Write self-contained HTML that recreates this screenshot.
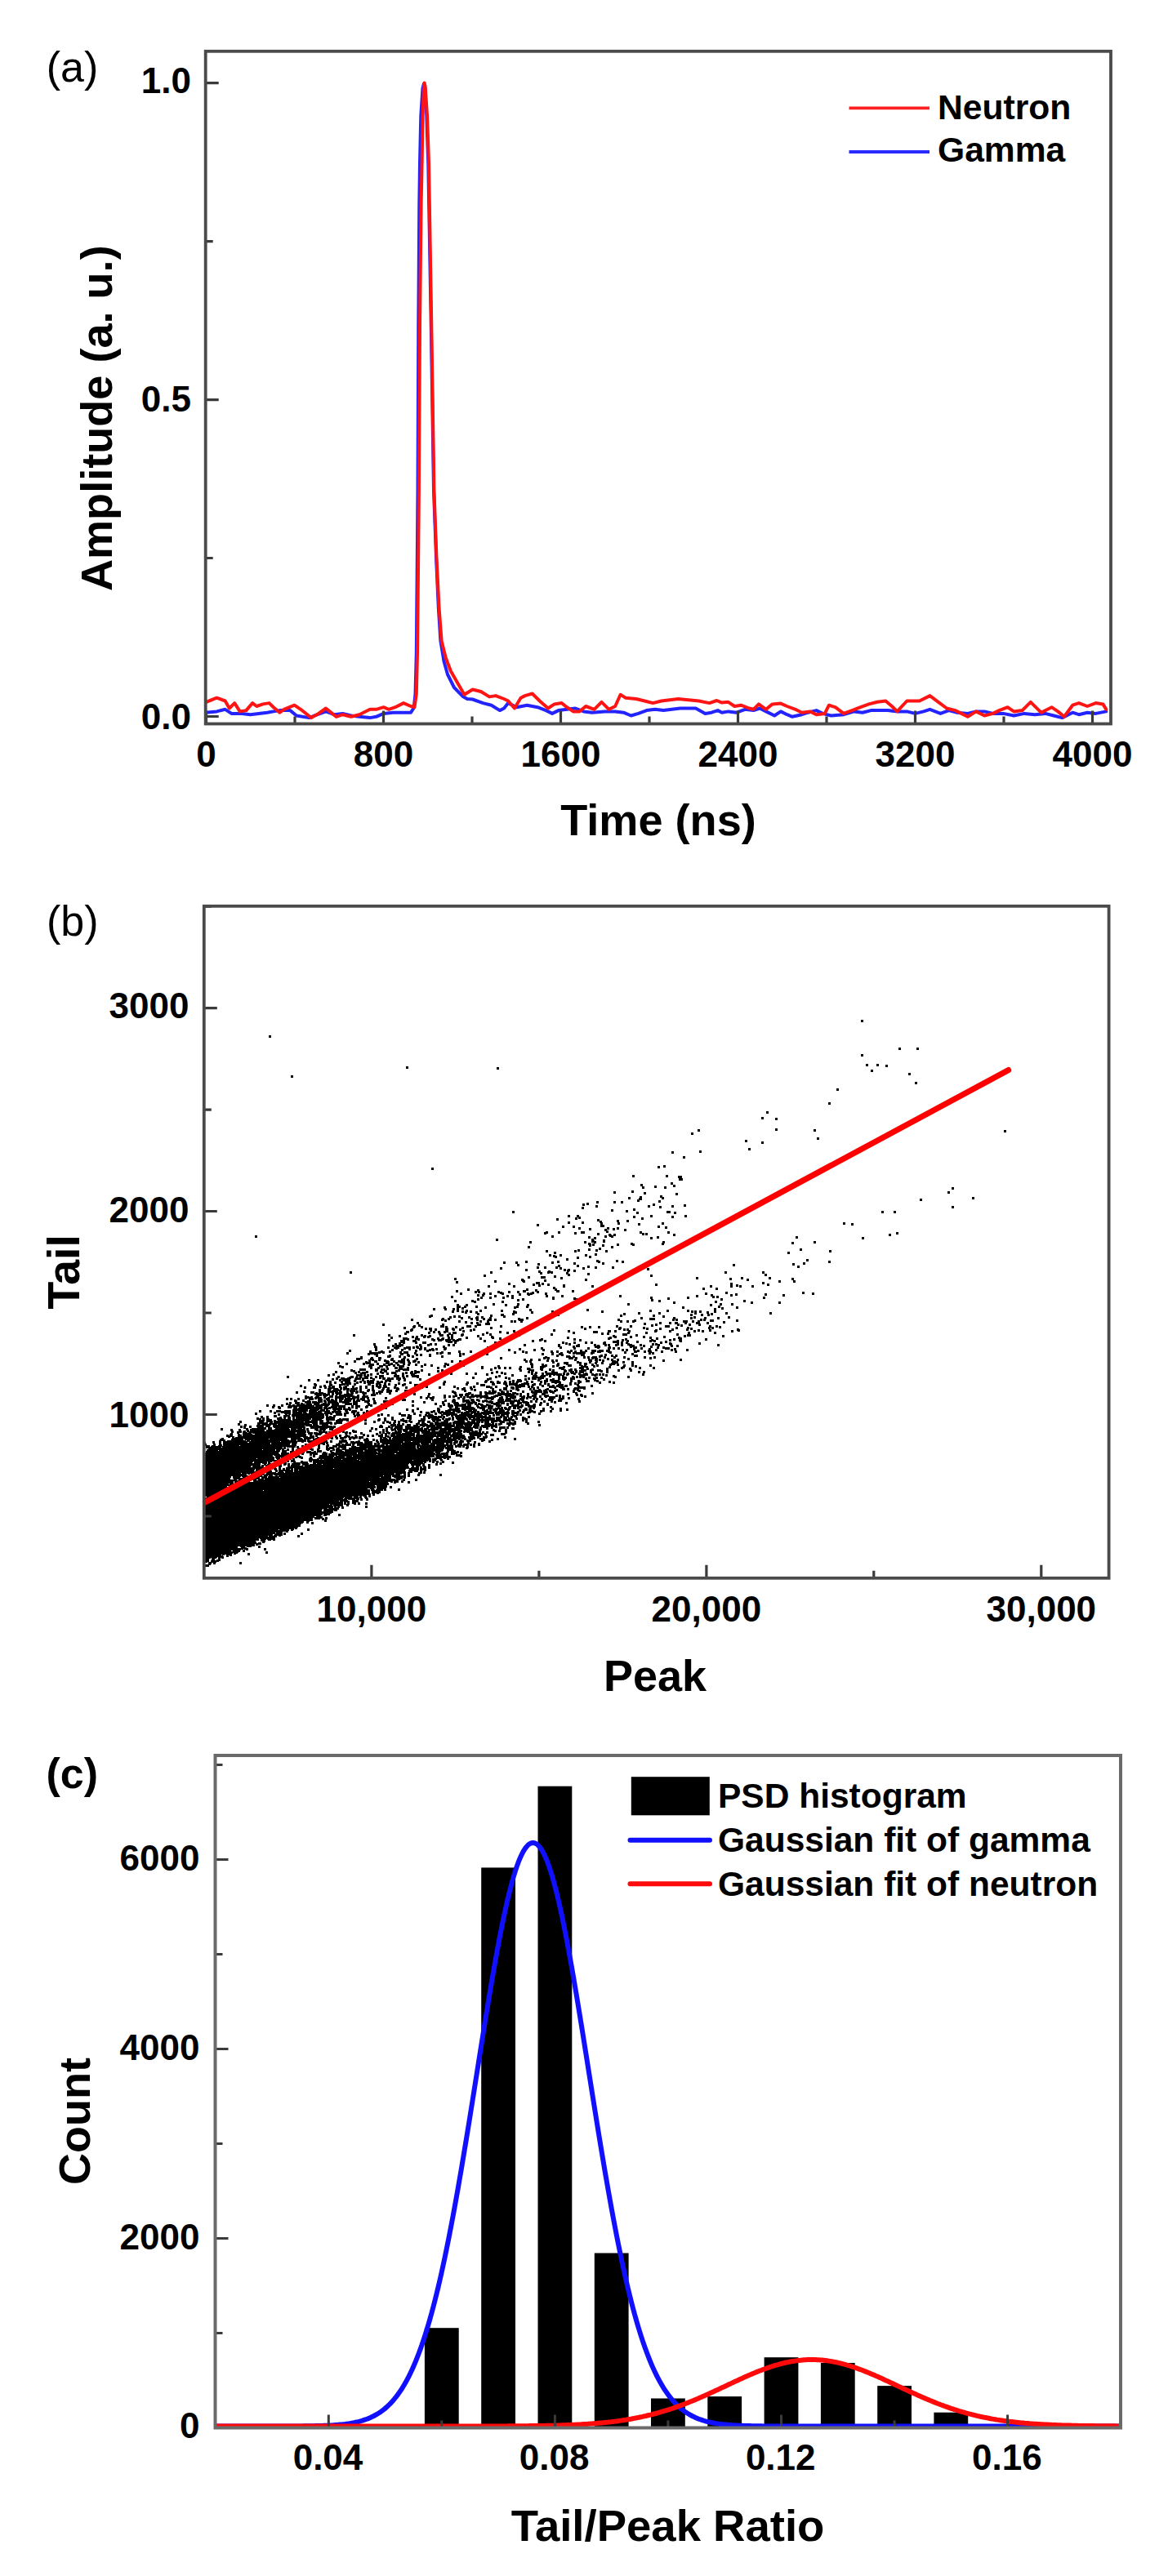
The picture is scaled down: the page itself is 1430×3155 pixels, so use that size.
<!DOCTYPE html>
<html><head><meta charset="utf-8"><title>PSD figure</title>
<style>html,body{margin:0;padding:0;background:#fff;width:1430px;height:3155px;overflow:hidden}svg{display:block}</style>
</head><body>
<svg width="1430" height="3155" viewBox="0 0 1430 3155">
<rect width="1430" height="3155" fill="#fff"/>
<g id="pa">
<polyline points="252.6,872.7 265.4,871.4 275.7,868.8 283.4,873.9 296.2,873.9 306.5,875.2 316.8,873.9 327.1,872.7 334.8,871.4 342.5,870.1 355.3,870.1 363.0,876.5 378.4,879.1 388.7,875.2 399.0,871.4 409.3,875.2 419.5,873.9 429.8,876.5 440.1,877.8 452.9,879.1 460.6,877.8 469.6,873.9 481.2,872.7 491.5,872.7 503.0,872.7 506.7,867.0 508.5,850.0 509.8,800.0 510.7,700.0 511.5,600.0 512.3,400.0 513.3,250.0 514.0,200.0 515.3,141.6 517.5,108.0 519.0,102.5 520.3,107.0 522.3,141.6 524.3,200.0 527.8,400.0 531.0,600.0 534.0,682.0 536.8,743.8 539.4,785.0 543.5,810.0 548.0,826.0 556.0,842.0 566.3,852.7 572.0,856.0 578.5,856.5 591.4,861.1 601.6,863.7 611.9,870.1 617.1,867.5 622.2,861.1 632.5,866.2 645.3,863.7 658.2,866.2 668.4,870.1 676.1,873.9 683.8,870.1 694.1,868.8 704.4,867.5 714.7,871.4 724.9,872.7 740.4,871.4 753.2,871.4 763.5,872.7 772.5,876.5 781.5,873.9 791.7,870.1 802.0,868.8 812.3,870.1 822.6,868.8 832.8,867.5 851.8,867.5 863.4,873.9 871.1,872.7 878.8,870.1 883.9,872.7 891.6,871.4 901.9,872.7 912.2,868.8 922.5,870.1 930.2,867.5 937.9,871.4 948.2,876.5 955.9,871.4 963.6,875.2 970.0,877.8 981.6,875.2 989.3,872.7 999.5,870.1 1007.2,873.9 1017.5,876.5 1032.9,875.2 1045.8,871.4 1056.0,872.7 1066.3,870.1 1076.6,870.1 1086.9,870.1 1094.6,870.9 1100.0,871.4 1110.3,871.4 1120.5,873.9 1130.8,871.4 1138.5,868.8 1151.4,873.9 1161.6,870.1 1171.9,872.7 1184.8,873.9 1195.0,871.4 1205.3,871.4 1215.6,873.9 1228.4,873.9 1241.3,876.5 1254.1,873.9 1267.0,875.2 1279.8,873.9 1290.1,876.5 1300.4,879.1 1313.2,872.7 1320.9,875.2 1331.2,872.7 1341.5,873.9 1354.3,871.4" fill="none" stroke="#2323ff" stroke-width="4.0" stroke-linejoin="round" stroke-linecap="round"/>
<polyline points="252.6,859.8 265.4,854.7 275.7,858.5 280.8,867.5 287.2,861.1 293.7,871.4 301.4,870.1 309.1,861.1 314.2,865.0 321.9,862.4 329.6,861.1 334.8,866.2 342.5,872.7 347.6,868.8 360.5,863.7 368.2,868.8 381.0,879.1 390.0,873.9 399.0,867.5 406.7,873.9 411.8,877.8 419.5,875.2 429.8,877.8 440.1,875.2 452.9,868.8 460.6,868.8 469.6,866.2 476.0,868.8 483.8,866.2 494.0,861.1 503.0,865.0 507.5,866.0 509.8,850.0 511.0,800.0 512.0,700.0 512.9,600.0 514.0,400.0 515.6,250.0 516.6,200.0 517.6,141.6 518.8,108.0 519.6,101.5 520.6,106.0 523.0,141.6 525.0,200.0 528.3,400.0 531.4,600.0 534.4,682.0 537.5,743.8 540.6,785.0 545.7,805.5 551.9,822.0 560.1,836.3 568.4,850.7 578.6,844.5 588.8,847.0 599.1,853.4 606.8,852.1 617.1,856.0 622.2,858.5 629.9,867.5 637.6,854.7 642.7,852.1 651.7,849.5 660.7,858.5 671.0,867.5 678.7,862.4 687.7,861.1 694.1,866.2 701.8,871.4 709.5,871.4 717.2,865.0 727.5,868.8 736.5,859.8 745.5,868.8 753.2,865.0 759.6,850.8 766.0,854.7 778.9,856.0 789.2,858.5 799.4,861.1 809.7,858.5 820.0,857.2 830.3,856.0 855.7,858.5 868.5,861.1 877.5,858.0 883.9,860.6 891.6,859.8 899.4,865.0 907.1,863.7 917.3,867.5 922.5,868.8 928.9,862.4 937.9,868.8 945.6,862.4 955.9,861.6 963.6,865.0 973.8,868.8 981.6,872.7 991.8,871.4 999.5,875.2 1009.8,873.9 1014.9,863.7 1022.7,866.2 1032.9,873.9 1043.2,870.1 1053.5,866.2 1063.8,862.4 1074.0,859.8 1084.3,858.5 1092.0,865.0 1098.4,871.4 1110.3,858.5 1125.7,858.5 1138.5,852.1 1148.8,859.8 1159.1,867.5 1169.4,870.1 1177.1,873.9 1184.8,877.8 1195.0,871.4 1205.3,876.5 1215.6,873.9 1223.3,870.1 1233.6,866.2 1241.3,871.4 1251.6,870.1 1261.8,859.8 1274.7,872.7 1287.5,866.2 1295.2,871.4 1302.9,877.8 1313.2,863.7 1320.9,861.1 1331.2,865.0 1341.5,861.1 1350.4,862.4 1354.3,868.8" fill="none" stroke="#ff1414" stroke-width="4.0" stroke-linejoin="round" stroke-linecap="round"/>
<path d="M252.5 886.5v-16 M361.0 886.5v-9 M469.5 886.5v-16 M578.0 886.5v-9 M686.5 886.5v-16 M795.0 886.5v-9 M903.5 886.5v-16 M1012.0 886.5v-9 M1120.5 886.5v-16 M1229.0 886.5v-9 M1337.5 886.5v-16 M251.7 877.5h16 M251.7 683.5h9 M251.7 489.6h16 M251.7 295.7h9 M251.7 101.7h16" stroke="#3a3a3a" stroke-width="3.2" fill="none"/>
<rect x="251.7" y="62.8" width="1108.3" height="823.7" fill="none" stroke="#4a4a4a" stroke-width="3.8"/>
<g font-family="Liberation Sans, Arial, sans-serif" font-weight="bold" font-size="44" text-anchor="end">
<text x="234" y="113.5">1.0</text>
<text x="234" y="504.0">0.5</text>
<text x="234" y="892.5">0.0</text>
</g>
<g font-family="Liberation Sans, Arial, sans-serif" font-weight="bold" font-size="44" text-anchor="middle">
<text x="252.5" y="938.5">0</text>
<text x="469.5" y="938.5">800</text>
<text x="686.5" y="938.5">1600</text>
<text x="903.5" y="938.5">2400</text>
<text x="1120.5" y="938.5">3200</text>
<text x="1337.5" y="938.5">4000</text>
</g>
<text font-family="Liberation Sans, Arial, sans-serif" font-weight="bold" font-size="54.1" text-anchor="middle" x="806" y="1022.7">Time (ns)</text>
<text font-family="Liberation Sans, Arial, sans-serif" font-weight="bold" font-size="54.1" text-anchor="middle" transform="translate(136.5 512.2) rotate(-90)">Amplitude (a. u.)</text>
<text font-family="Liberation Sans, Arial, sans-serif" font-size="52" x="56.8" y="99.6">(a)</text>
<path d="M1039.5 132.3H1138" stroke="#ff2020" stroke-width="3.8"/>
<path d="M1039.5 186H1138" stroke="#2a2aff" stroke-width="3.8"/>
<g font-family="Liberation Sans, Arial, sans-serif" font-weight="bold" font-size="42.6">
<text x="1148" y="145.8">Neutron</text>
<text x="1148" y="197.8">Gamma</text>
</g>
</g>
<g id="pb">
<path d="M1054 1249h3M1054 1250h3M1054 1251h3M329 1268h3M329 1269h3M329 1270h3M1100 1283h3M1122 1283h3M1100 1284h3M1122 1284h3M1100 1285h3M1122 1285h3M1054 1291h3M1054 1292h3M1054 1293h3M1060 1303h3M1073 1303h3M1060 1304h3M1073 1304h3M1084 1304h3M1060 1305h3M1073 1305h3M1084 1305h3M497 1306h3M1084 1306h3M497 1307h3M608 1307h3M497 1308h3M608 1308h3M608 1309h3M1066 1310h3M1066 1311h3M1066 1312h3M1112 1314h3M1112 1315h3M1112 1316h3M356 1317h3M356 1318h3M356 1319h3M1120 1325h3M1120 1326h3M1120 1327h3M1024 1333h3M1024 1334h3M1024 1335h3M1014 1350h3M1014 1351h3M1014 1352h3M938 1361h3M938 1362h3M938 1363h3M932 1368h3M932 1369h3M949 1369h3M932 1370h3M949 1370h3M949 1371h3M949 1382h3M854 1383h3M949 1383h3M996 1383h3M854 1384h3M949 1384h3M996 1384h3M1229 1384h3M854 1385h3M996 1385h3M1229 1385h3M1229 1386h3M846 1387h3M846 1388h3M846 1389h3M1000 1393h3M1000 1394h3M1000 1395h3M912 1396h3M912 1397h3M912 1398h3M932 1398h3M932 1399h3M932 1400h3M916 1406h3M916 1407h3M916 1408h3M856 1409h3M822 1410h3M856 1410h3M822 1411h3M856 1411h3M822 1412h3M836 1416h3M836 1417h3M836 1418h3M812 1427h3M805 1428h3M812 1428h3M805 1429h3M812 1429h3M528 1430h3M805 1430h3M528 1431h3M528 1432h3M774 1439h3M815 1439h3M774 1440h3M815 1440h3M830 1440h5M774 1441h3M815 1441h3M830 1441h5M830 1442h5M831 1443h5M831 1444h5M831 1445h5M821 1448h3M821 1449h3M784 1450h3M821 1450h3M784 1451h3M824 1451h3M784 1452h3M801 1452h3M824 1452h3M786 1453h3M801 1453h3M813 1453h3M824 1453h3M786 1454h3M801 1454h3M813 1454h3M1165 1454h3M786 1455h3M813 1455h3M1165 1455h3M1165 1456h3M773 1458h3M751 1459h3M773 1459h3M1160 1459h3M751 1460h3M773 1460h3M788 1460h3M1160 1460h3M751 1461h3M788 1461h3M827 1461h3M1160 1461h3M788 1462h3M827 1462h3M827 1463h3M808 1464h3M783 1465h3M808 1465h3M769 1466h3M783 1466h3M808 1466h5M1190 1466h3M769 1467h3M782 1467h4M810 1467h3M1190 1467h3M769 1468h3M782 1468h4M810 1468h3M1126 1468h3M1190 1468h3M780 1469h6M1126 1469h3M780 1470h3M806 1470h3M1126 1470h3M730 1471h3M751 1471h3M760 1471h3M780 1471h3M806 1471h3M730 1472h3M751 1472h3M760 1472h3M806 1472h3M718 1473h3M730 1473h3M751 1473h3M760 1473h3M713 1474h3M718 1474h3M799 1474h3M713 1475h3M718 1475h3M799 1475h3M837 1475h3M713 1476h3M729 1476h3M793 1476h3M799 1476h3M822 1476h3M837 1476h3M729 1477h3M793 1477h3M807 1477h3M822 1477h3M837 1477h3M1165 1477h3M712 1478h3M729 1478h3M793 1478h3M807 1478h3M822 1478h3M1165 1478h3M712 1479h3M807 1479h3M1165 1479h3M712 1480h3M775 1480h3M748 1481h3M775 1481h3M748 1482h3M766 1482h3M775 1482h3M627 1483h3M748 1483h3M766 1483h3M816 1483h5M1079 1483h3M1094 1483h3M627 1484h3M766 1484h3M779 1484h3M816 1484h5M825 1484h3M1079 1484h3M1094 1484h3M627 1485h3M779 1485h3M816 1485h5M825 1485h3M1079 1485h3M1094 1485h3M779 1486h3M825 1486h3M695 1488h3M706 1488h3M796 1488h3M838 1488h3M695 1489h3M706 1489h3M775 1489h3M796 1489h3M822 1489h3M838 1489h3M695 1490h3M706 1490h5M775 1490h3M796 1490h3M822 1490h3M838 1490h3M704 1491h3M708 1491h3M775 1491h3M785 1491h3M822 1491h3M681 1492h3M704 1492h3M708 1492h3M785 1492h3M681 1493h3M704 1493h3M731 1493h3M785 1493h3M681 1494h3M731 1494h3M755 1494h3M767 1494h3M731 1495h6M755 1495h3M767 1495h3M695 1496h3M712 1496h3M734 1496h3M755 1496h3M767 1496h3M695 1497h3M712 1497h3M734 1497h4M756 1497h3M810 1497h3M1032 1497h3M695 1498h3M712 1498h3M735 1498h3M756 1498h3M781 1498h3M810 1498h3M1032 1498h3M1042 1498h3M657 1499h3M735 1499h3M756 1499h3M781 1499h3M810 1499h3M1032 1499h3M1042 1499h3M657 1500h3M735 1500h5M781 1500h3M1042 1500h3M657 1501h3M688 1501h3M701 1501h3M735 1501h5M805 1501h3M688 1502h3M701 1502h3M735 1502h5M805 1502h3M814 1502h3M688 1503h3M701 1503h3M708 1503h3M743 1503h3M755 1503h3M805 1503h3M814 1503h3M708 1504h3M721 1504h3M743 1504h3M750 1504h3M755 1504h3M814 1504h3M708 1505h3M721 1505h3M740 1505h6M750 1505h3M755 1505h3M764 1505h3M721 1506h3M740 1506h3M750 1506h3M764 1506h3M740 1507h5M764 1507h3M668 1508h3M683 1508h3M711 1508h5M742 1508h3M783 1508h3M817 1508h3M666 1509h5M683 1509h3M703 1509h3M711 1509h5M742 1509h3M783 1509h3M817 1509h3M1097 1509h3M666 1510h5M683 1510h3M703 1510h3M711 1510h5M731 1510h3M783 1510h6M790 1510h3M817 1510h3M1097 1510h3M666 1511h3M703 1511h3M731 1511h3M745 1511h3M751 1511h3M786 1511h3M790 1511h3M824 1511h3M1088 1511h3M1097 1511h3M731 1512h3M745 1512h4M751 1512h3M786 1512h3M790 1512h3M824 1512h3M1088 1512h3M312 1513h3M675 1513h3M740 1513h3M745 1513h9M824 1513h3M1088 1513h3M312 1514h3M675 1514h3M720 1514h3M740 1514h3M746 1514h5M804 1514h3M974 1514h3M312 1515h3M675 1515h3M720 1515h3M727 1515h3M740 1515h3M748 1515h3M796 1515h3M804 1515h3M974 1515h3M1055 1515h3M720 1516h3M727 1516h3M796 1516h3M804 1516h3M974 1516h3M1055 1516h3M607 1517h3M724 1517h6M796 1517h3M1055 1517h3M607 1518h3M724 1518h3M738 1518h3M607 1519h3M724 1519h4M738 1519h3M648 1520h3M715 1520h3M724 1520h6M738 1520h3M811 1520h3M996 1520h3M648 1521h3M715 1521h3M724 1521h6M738 1521h3M811 1521h3M969 1521h3M996 1521h3M648 1522h3M715 1522h3M720 1522h3M727 1522h3M772 1522h3M810 1522h4M969 1522h3M996 1522h3M720 1523h4M725 1523h3M755 1523h3M772 1523h5M810 1523h3M969 1523h3M720 1524h4M725 1524h3M737 1524h3M755 1524h3M772 1524h5M810 1524h3M721 1525h3M725 1525h3M737 1525h3M755 1525h3M774 1525h3M646 1526h3M721 1526h3M737 1526h3M748 1526h3M646 1527h3M748 1527h3M646 1528h3M733 1528h3M748 1528h3M720 1529h3M733 1529h3M979 1529h3M707 1530h3M720 1530h3M729 1530h3M733 1530h3M979 1530h3M668 1531h3M703 1531h3M707 1531h3M720 1531h3M729 1531h3M741 1531h3M979 1531h3M1015 1531h3M668 1532h3M703 1532h3M707 1532h3M729 1532h3M741 1532h3M1015 1532h3M668 1533h3M678 1533h3M703 1533h3M741 1533h3M964 1533h3M1015 1533h3M678 1534h3M964 1534h3M678 1535h3M728 1535h3M964 1535h3M672 1536h3M685 1536h3M716 1536h3M728 1536h3M672 1537h3M677 1537h3M685 1537h3M716 1537h3M728 1537h3M672 1538h3M677 1538h5M685 1538h3M716 1538h3M721 1538h3M677 1539h5M706 1539h3M721 1539h3M679 1540h3M706 1540h3M721 1540h3M693 1541h3M706 1541h3M803 1541h3M693 1542h3M803 1542h3M987 1542h3M693 1543h3M730 1543h3M754 1543h3M803 1543h3M987 1543h3M643 1544h3M682 1544h3M730 1544h5M754 1544h3M761 1544h3M987 1544h3M1014 1544h3M616 1545h3M631 1545h3M643 1545h3M675 1545h3M682 1545h3M730 1545h5M754 1545h3M761 1545h3M1014 1545h3M616 1546h3M631 1546h3M643 1546h3M675 1546h3M682 1546h3M702 1546h3M732 1546h3M737 1546h3M761 1546h3M983 1546h3M1014 1546h3M616 1547h3M631 1547h3M658 1547h3M675 1547h3M702 1547h3M737 1547h3M970 1547h3M983 1547h3M633 1548h3M658 1548h3M702 1548h3M737 1548h3M897 1548h3M970 1548h3M983 1548h3M633 1549h3M658 1549h3M683 1549h3M706 1549h3M897 1549h3M970 1549h3M633 1550h3M683 1550h3M706 1550h3M719 1550h3M897 1550h3M976 1550h3M657 1551h3M666 1551h3M680 1551h6M706 1551h3M719 1551h3M728 1551h3M749 1551h3M976 1551h3M612 1552h3M657 1552h3M666 1552h3M680 1552h3M685 1552h3M713 1552h3M719 1552h3M728 1552h3M749 1552h3M976 1552h3M612 1553h3M657 1553h3M666 1553h3M680 1553h3M685 1553h3M713 1553h3M728 1553h3M749 1553h3M792 1553h3M612 1554h3M643 1554h3M685 1554h3M690 1554h3M695 1554h3M713 1554h3M792 1554h3M643 1555h3M690 1555h3M694 1555h4M702 1555h3M792 1555h3M643 1556h3M659 1556h3M671 1556h3M690 1556h3M694 1556h4M702 1556h3M428 1557h3M600 1557h3M659 1557h3M670 1557h7M694 1557h3M702 1557h3M887 1557h3M933 1557h3M428 1558h3M600 1558h3M659 1558h5M670 1558h7M693 1558h3M887 1558h3M933 1558h3M428 1559h3M600 1559h3M661 1559h3M670 1559h3M674 1559h3M693 1559h3M719 1559h3M887 1559h3M933 1559h3M661 1560h3M693 1560h5M719 1560h3M936 1560h3M592 1561h3M695 1561h3M719 1561h3M796 1561h3M936 1561h3M592 1562h3M678 1562h3M695 1562h3M796 1562h3M936 1562h3M592 1563h3M646 1563h3M662 1563h6M678 1563h3M796 1563h3M646 1564h3M662 1564h6M678 1564h3M686 1564h3M852 1564h3M907 1564h3M941 1564h3M556 1565h3M646 1565h3M662 1565h6M686 1565h3M852 1565h3M893 1565h3M907 1565h3M941 1565h3M969 1565h3M556 1566h3M638 1566h3M686 1566h3M716 1566h3M852 1566h3M893 1566h3M907 1566h3M914 1566h3M941 1566h3M969 1566h3M556 1567h3M638 1567h4M666 1567h3M716 1567h3M893 1567h3M914 1567h3M969 1567h3M605 1568h3M638 1568h5M666 1568h3M716 1568h3M914 1568h3M953 1568h3M971 1568h3M558 1569h3M605 1569h3M639 1569h4M666 1569h3M953 1569h3M971 1569h3M558 1570h3M605 1570h3M640 1570h3M656 1570h5M933 1570h3M953 1570h3M971 1570h3M558 1571h3M622 1571h3M656 1571h5M663 1571h3M894 1571h3M933 1571h3M622 1572h3M652 1572h3M656 1572h5M663 1572h3M670 1572h3M802 1572h3M894 1572h3M933 1572h3M939 1572h3M622 1573h3M652 1573h3M659 1573h3M663 1573h3M670 1573h3M689 1573h3M802 1573h3M894 1573h3M901 1573h3M939 1573h3M597 1574h3M628 1574h3M652 1574h3M659 1574h3M670 1574h3M689 1574h3M724 1574h3M802 1574h3M869 1574h3M894 1574h3M901 1574h3M905 1574h3M920 1574h3M939 1574h3M597 1575h3M628 1575h3M659 1575h3M689 1575h3M724 1575h3M869 1575h3M894 1575h3M901 1575h3M905 1575h3M920 1575h3M597 1576h3M628 1576h3M677 1576h3M689 1576h3M724 1576h3M869 1576h3M894 1576h3M905 1576h3M920 1576h3M677 1577h3M860 1577h3M876 1577h3M572 1578h3M644 1578h3M677 1578h5M860 1578h3M876 1578h3M572 1579h3M584 1579h3M644 1579h3M655 1579h3M679 1579h3M860 1579h3M876 1579h3M558 1580h3M572 1580h3M584 1580h3M640 1580h7M655 1580h3M679 1580h6M700 1580h3M558 1581h3M581 1581h7M609 1581h3M622 1581h3M633 1581h3M640 1581h4M655 1581h5M681 1581h4M700 1581h3M558 1582h3M581 1582h3M585 1582h3M609 1582h6M622 1582h3M633 1582h3M640 1582h4M651 1582h3M657 1582h3M681 1582h4M700 1582h3M888 1582h3M982 1582h3M563 1583h3M581 1583h3M585 1583h3M591 1583h3M599 1583h3M609 1583h8M622 1583h3M633 1583h3M645 1583h3M649 1583h5M657 1583h3M667 1583h3M863 1583h3M888 1583h3M982 1583h3M994 1583h3M563 1584h3M591 1584h3M599 1584h3M612 1584h5M635 1584h3M645 1584h9M667 1584h3M863 1584h3M888 1584h3M900 1584h3M936 1584h3M982 1584h3M994 1584h3M563 1585h3M584 1585h3M590 1585h4M599 1585h3M614 1585h3M635 1585h3M645 1585h7M667 1585h3M863 1585h3M870 1585h3M894 1585h3M900 1585h3M936 1585h3M958 1585h3M994 1585h3M584 1586h3M590 1586h3M605 1586h3M620 1586h3M626 1586h3M635 1586h3M646 1586h3M668 1586h3M687 1586h3M758 1586h3M852 1586h3M870 1586h3M894 1586h3M900 1586h3M936 1586h3M958 1586h3M552 1587h3M584 1587h3M590 1587h3M605 1587h3M620 1587h3M626 1587h3M668 1587h3M687 1587h3M758 1587h3M852 1587h3M870 1587h5M877 1587h3M894 1587h3M958 1587h3M552 1588h3M588 1588h3M599 1588h3M605 1588h3M615 1588h3M620 1588h3M626 1588h3M668 1588h3M676 1588h3M687 1588h3M711 1588h3M758 1588h3M796 1588h3M841 1588h3M852 1588h3M872 1588h3M877 1588h3M934 1588h3M552 1589h3M588 1589h3M599 1589h3M615 1589h3M626 1589h3M676 1589h3M702 1589h3M711 1589h3M796 1589h3M817 1589h3M841 1589h3M872 1589h3M877 1589h3M934 1589h3M584 1590h3M588 1590h3M599 1590h3M615 1590h3M626 1590h3M639 1590h3M676 1590h3M702 1590h6M711 1590h3M796 1590h3M817 1590h3M841 1590h3M882 1590h3M934 1590h3M584 1591h3M633 1591h3M639 1591h3M676 1591h3M702 1591h6M797 1591h3M817 1591h3M882 1591h3M556 1592h3M577 1592h3M584 1592h3M633 1592h3M639 1592h3M705 1592h3M797 1592h3M806 1592h3M882 1592h3M910 1592h3M556 1593h3M577 1593h6M614 1593h3M633 1593h3M797 1593h3M806 1593h3M875 1593h3M910 1593h3M556 1594h3M577 1594h6M614 1594h3M806 1594h3M824 1594h3M875 1594h3M910 1594h3M919 1594h3M953 1594h3M580 1595h3M614 1595h3M824 1595h3M875 1595h3M919 1595h3M953 1595h3M603 1596h3M633 1596h3M768 1596h3M824 1596h3M881 1596h3M895 1596h3M919 1596h3M953 1596h3M559 1597h3M570 1597h3M603 1597h3M618 1597h3M633 1597h3M645 1597h3M768 1597h3M869 1597h3M881 1597h3M895 1597h3M559 1598h3M570 1598h3M603 1598h3M618 1598h3M633 1598h3M645 1598h3M768 1598h3M869 1598h3M881 1598h3M895 1598h3M559 1599h5M568 1599h5M582 1599h3M618 1599h3M632 1599h3M644 1599h4M869 1599h3M879 1599h3M543 1600h3M559 1600h5M568 1600h3M582 1600h3M593 1600h3M629 1600h6M644 1600h3M835 1600h3M879 1600h3M901 1600h3M543 1601h3M559 1601h5M565 1601h6M582 1601h3M593 1601h3M629 1601h6M644 1601h3M835 1601h3M879 1601h3M883 1601h3M901 1601h3M530 1602h3M543 1602h4M554 1602h3M559 1602h3M565 1602h3M593 1602h3M629 1602h3M835 1602h3M874 1602h3M883 1602h3M901 1602h3M530 1603h3M544 1603h3M554 1603h3M559 1603h3M565 1603h3M648 1603h3M718 1603h3M874 1603h3M883 1603h3M530 1604h3M544 1604h3M554 1604h3M559 1604h3M570 1604h3M587 1604h3M613 1604h3M648 1604h3M718 1604h3M795 1604h3M816 1604h3M841 1604h3M874 1604h3M553 1605h3M559 1605h3M565 1605h3M570 1605h3M575 1605h3M587 1605h3M613 1605h3M628 1605h3M648 1605h3M675 1605h3M718 1605h3M736 1605h3M795 1605h3M816 1605h3M841 1605h3M846 1605h3M850 1605h3M856 1605h3M874 1605h3M553 1606h3M559 1606h3M565 1606h3M569 1606h4M575 1606h3M582 1606h3M587 1606h3M613 1606h3M628 1606h5M650 1606h3M675 1606h3M736 1606h3M795 1606h3M816 1606h3M841 1606h3M846 1606h3M850 1606h3M856 1606h3M865 1606h3M874 1606h3M553 1607h3M565 1607h3M569 1607h3M575 1607h3M582 1607h3M628 1607h5M650 1607h3M675 1607h3M736 1607h3M781 1607h3M806 1607h3M846 1607h3M850 1607h3M856 1607h3M865 1607h3M874 1607h3M888 1607h3M942 1607h3M569 1608h3M582 1608h5M627 1608h6M650 1608h3M763 1608h3M781 1608h3M806 1608h3M850 1608h3M865 1608h3M870 1608h3M888 1608h3M942 1608h3M584 1609h3M613 1609h4M627 1609h3M682 1609h3M763 1609h3M781 1609h3M806 1609h3M845 1609h3M850 1609h3M858 1609h3M866 1609h3M870 1609h3M888 1609h3M942 1609h3M527 1610h3M584 1610h3M600 1610h3M613 1610h4M627 1610h3M682 1610h3M759 1610h3M763 1610h3M799 1610h3M845 1610h3M858 1610h3M866 1610h3M870 1610h3M525 1611h5M555 1611h3M561 1611h3M600 1611h3M613 1611h6M682 1611h3M759 1611h3M799 1611h3M811 1611h3M845 1611h3M858 1611h3M866 1611h3M525 1612h5M550 1612h3M555 1612h3M561 1612h3M573 1612h3M583 1612h3M589 1612h3M600 1612h3M616 1612h3M759 1612h3M799 1612h3M811 1612h3M849 1612h3M891 1612h3M525 1613h3M550 1613h3M555 1613h3M561 1613h6M573 1613h3M582 1613h4M589 1613h3M599 1613h3M616 1613h3M644 1613h3M784 1613h3M811 1613h3M824 1613h3M845 1613h3M849 1613h3M862 1613h3M878 1613h3M891 1613h3M541 1614h3M548 1614h5M564 1614h3M573 1614h6M582 1614h4M589 1614h5M599 1614h3M634 1614h3M644 1614h3M784 1614h3M795 1614h7M824 1614h3M845 1614h3M849 1614h3M862 1614h3M878 1614h3M891 1614h3M503 1615h3M540 1615h4M548 1615h3M564 1615h3M576 1615h3M582 1615h4M591 1615h3M597 1615h5M605 1615h3M634 1615h7M644 1615h3M756 1615h3M784 1615h3M795 1615h7M823 1615h7M845 1615h3M857 1615h3M861 1615h4M878 1615h3M503 1616h3M540 1616h7M548 1616h3M576 1616h3M583 1616h3M591 1616h3M597 1616h5M605 1616h3M634 1616h7M756 1616h3M776 1616h3M795 1616h7M823 1616h3M827 1616h3M857 1616h3M861 1616h3M869 1616h5M901 1616h3M503 1617h3M540 1617h3M544 1617h3M561 1617h3M583 1617h3M587 1617h3M596 1617h6M605 1617h3M625 1617h3M629 1617h3M635 1617h6M756 1617h6M767 1617h3M774 1617h5M823 1617h3M827 1617h3M836 1617h6M847 1617h3M854 1617h6M861 1617h3M869 1617h5M901 1617h3M544 1618h3M561 1618h3M569 1618h3M587 1618h3M596 1618h3M625 1618h3M629 1618h3M637 1618h3M759 1618h3M767 1618h3M774 1618h5M836 1618h6M847 1618h3M854 1618h3M869 1618h5M885 1618h3M901 1618h3M510 1619h3M561 1619h3M569 1619h3M576 1619h3M583 1619h3M587 1619h3M596 1619h3M625 1619h3M629 1619h3M637 1619h3M759 1619h3M767 1619h3M774 1619h3M807 1619h3M819 1619h3M826 1619h4M836 1619h6M847 1619h3M852 1619h5M865 1619h3M885 1619h3M510 1620h3M569 1620h3M576 1620h3M583 1620h3M594 1620h6M788 1620h3M807 1620h3M819 1620h3M826 1620h4M838 1620h3M852 1620h5M865 1620h3M885 1620h3M468 1621h3M510 1621h3M541 1621h3M576 1621h3M583 1621h6M594 1621h6M788 1621h3M802 1621h3M807 1621h3M819 1621h3M826 1621h6M838 1621h3M843 1621h3M852 1621h6M865 1621h3M468 1622h3M512 1622h3M541 1622h3M584 1622h5M594 1622h6M788 1622h3M797 1622h3M802 1622h3M829 1622h3M833 1622h3M843 1622h3M855 1622h3M468 1623h3M506 1623h3M512 1623h3M539 1623h5M571 1623h6M581 1623h8M612 1623h3M754 1623h3M771 1623h3M797 1623h3M802 1623h3M814 1623h6M829 1623h3M833 1623h3M843 1623h3M855 1623h3M868 1623h3M876 1623h3M505 1624h4M512 1624h6M539 1624h5M545 1624h3M557 1624h3M571 1624h6M581 1624h3M612 1624h3M711 1624h3M721 1624h3M732 1624h3M754 1624h3M771 1624h3M797 1624h3M814 1624h6M833 1624h3M868 1624h3M876 1624h3M880 1624h3M494 1625h3M505 1625h4M515 1625h3M539 1625h5M545 1625h3M557 1625h3M565 1625h3M571 1625h6M581 1625h3M600 1625h3M612 1625h3M711 1625h3M721 1625h3M732 1625h3M754 1625h3M758 1625h3M771 1625h3M787 1625h3M814 1625h6M827 1625h3M841 1625h3M867 1625h7M876 1625h3M880 1625h3M494 1626h3M505 1626h3M515 1626h3M520 1626h3M525 1626h4M545 1626h4M553 1626h3M557 1626h3M565 1626h3M600 1626h3M711 1626h3M715 1626h3M721 1626h3M732 1626h3M757 1626h4M787 1626h3M791 1626h3M807 1626h3M827 1626h3M841 1626h3M845 1626h3M867 1626h3M871 1626h3M880 1626h3M494 1627h3M503 1627h3M520 1627h3M525 1627h4M532 1627h3M545 1627h4M553 1627h4M562 1627h6M579 1627h3M600 1627h3M715 1627h3M757 1627h4M763 1627h3M767 1627h3M787 1627h3M791 1627h3M807 1627h3M822 1627h3M827 1627h3M840 1627h4M845 1627h3M867 1627h3M871 1627h3M902 1627h3M502 1628h4M520 1628h3M525 1628h4M532 1628h3M545 1628h4M553 1628h4M562 1628h3M575 1628h3M579 1628h3M677 1628h3M715 1628h3M757 1628h3M763 1628h3M767 1628h3M791 1628h3M802 1628h3M807 1628h3M822 1628h3M840 1628h3M845 1628h3M854 1628h3M868 1628h3M902 1628h4M502 1629h4M526 1629h3M532 1629h3M545 1629h4M554 1629h3M562 1629h3M566 1629h3M575 1629h3M579 1629h3M628 1629h3M677 1629h3M695 1629h3M744 1629h4M752 1629h3M763 1629h3M767 1629h5M801 1629h4M819 1629h6M840 1629h3M849 1629h3M854 1629h3M859 1629h3M868 1629h3M895 1629h3M902 1629h4M497 1630h4M502 1630h3M526 1630h3M530 1630h3M536 1630h3M543 1630h6M566 1630h3M575 1630h3M611 1630h3M628 1630h3M677 1630h3M695 1630h3M726 1630h6M744 1630h4M752 1630h3M769 1630h3M801 1630h4M819 1630h3M849 1630h3M854 1630h3M859 1630h3M868 1630h3M895 1630h3M903 1630h3M497 1631h4M524 1631h3M530 1631h3M536 1631h3M543 1631h6M554 1631h5M566 1631h3M595 1631h3M611 1631h3M620 1631h3M628 1631h3M695 1631h3M701 1631h3M726 1631h6M744 1631h4M752 1631h3M768 1631h4M790 1631h3M801 1631h3M819 1631h3M842 1631h3M849 1631h3M859 1631h3M874 1631h3M895 1631h3M495 1632h6M524 1632h3M530 1632h3M536 1632h4M543 1632h3M549 1632h3M554 1632h5M595 1632h3M611 1632h3M620 1632h3M701 1632h3M726 1632h6M736 1632h3M743 1632h3M768 1632h3M790 1632h3M842 1632h3M874 1632h3M495 1633h3M524 1633h3M537 1633h3M549 1633h3M554 1633h5M565 1633h3M590 1633h3M595 1633h3M599 1633h3M620 1633h3M674 1633h3M701 1633h3M736 1633h3M743 1633h3M762 1633h9M790 1633h3M828 1633h3M842 1633h3M874 1633h3M432 1634h3M475 1634h3M495 1634h3M515 1634h3M537 1634h6M547 1634h8M564 1634h4M590 1634h3M599 1634h3M634 1634h3M674 1634h3M736 1634h3M743 1634h3M762 1634h6M778 1634h3M828 1634h3M841 1634h5M432 1635h3M475 1635h3M488 1635h3M515 1635h3M519 1635h3M525 1635h3M538 1635h5M547 1635h3M552 1635h3M564 1635h4M584 1635h3M590 1635h3M599 1635h3M634 1635h3M674 1635h3M750 1635h3M762 1635h6M778 1635h3M828 1635h3M837 1635h3M841 1635h5M884 1635h3M432 1636h3M475 1636h3M488 1636h3M504 1636h3M509 1636h3M515 1636h7M523 1636h5M538 1636h5M547 1636h3M552 1636h3M564 1636h3M584 1636h3M601 1636h3M634 1636h3M750 1636h5M771 1636h3M778 1636h3M787 1636h3M812 1636h3M837 1636h3M841 1636h5M884 1636h3M478 1637h3M488 1637h3M504 1637h3M509 1637h3M518 1637h4M523 1637h5M548 1637h3M552 1637h3M570 1637h3M584 1637h3M601 1637h4M694 1637h3M746 1637h3M750 1637h5M771 1637h3M787 1637h3M795 1637h3M812 1637h3M830 1637h3M837 1637h3M884 1637h3M478 1638h3M493 1638h6M504 1638h3M508 1638h4M518 1638h3M523 1638h3M535 1638h3M541 1638h3M548 1638h3M552 1638h3M570 1638h3M587 1638h3M601 1638h4M611 1638h3M694 1638h3M744 1638h5M752 1638h3M771 1638h3M787 1638h3M795 1638h3M803 1638h3M812 1638h3M830 1638h5M478 1639h3M493 1639h8M508 1639h6M528 1639h3M535 1639h3M540 1639h4M548 1639h3M552 1639h3M561 1639h4M570 1639h3M587 1639h3M602 1639h3M611 1639h3M662 1639h3M694 1639h3M702 1639h3M744 1639h5M765 1639h3M795 1639h3M803 1639h3M824 1639h3M830 1639h5M863 1639h3M475 1640h3M493 1640h8M508 1640h6M528 1640h5M535 1640h9M545 1640h12M559 1640h6M587 1640h3M611 1640h3M660 1640h5M702 1640h3M709 1640h3M744 1640h3M761 1640h3M765 1640h3M797 1640h3M803 1640h3M819 1640h3M824 1640h3M831 1640h4M863 1640h3M475 1641h3M490 1641h6M498 1641h3M505 1641h5M511 1641h3M528 1641h5M536 1641h7M545 1641h7M554 1641h11M592 1641h3M651 1641h3M660 1641h5M666 1641h3M702 1641h3M709 1641h3M755 1641h3M761 1641h3M765 1641h5M795 1641h8M819 1641h3M824 1641h3M831 1641h4M863 1641h3M475 1642h3M490 1642h6M505 1642h5M530 1642h3M536 1642h5M545 1642h17M592 1642h3M651 1642h3M660 1642h3M666 1642h3M709 1642h3M750 1642h8M761 1642h3M767 1642h3M779 1642h3M795 1642h8M814 1642h3M819 1642h3M831 1642h4M490 1643h6M505 1643h6M517 1643h5M546 1643h8M556 1643h4M592 1643h3M605 1643h3M651 1643h3M666 1643h3M688 1643h3M702 1643h3M716 1643h3M723 1643h3M739 1643h3M750 1643h8M760 1643h3M766 1643h4M779 1643h3M795 1643h3M800 1643h3M808 1643h3M814 1643h3M832 1643h3M488 1644h8M508 1644h3M517 1644h5M548 1644h6M556 1644h3M605 1644h3M688 1644h3M692 1644h3M702 1644h3M716 1644h3M723 1644h3M738 1644h4M750 1644h8M760 1644h3M766 1644h3M779 1644h3M808 1644h3M814 1644h3M819 1644h3M855 1644h3M457 1645h3M483 1645h3M488 1645h3M493 1645h3M508 1645h3M517 1645h5M526 1645h3M532 1645h3M556 1645h3M605 1645h3M688 1645h3M692 1645h3M696 1645h3M702 1645h3M716 1645h3M723 1645h3M738 1645h4M755 1645h3M760 1645h3M766 1645h5M798 1645h3M802 1645h3M808 1645h3M819 1645h4M855 1645h3M457 1646h3M483 1646h3M488 1646h6M513 1646h3M523 1646h6M532 1646h3M548 1646h3M554 1646h3M641 1646h3M683 1646h3M692 1646h3M696 1646h3M707 1646h3M727 1646h3M738 1646h5M744 1646h3M753 1646h5M760 1646h3M768 1646h6M783 1646h3M798 1646h3M802 1646h6M819 1646h4M855 1646h3M878 1646h3M457 1647h3M480 1647h14M513 1647h3M523 1647h6M532 1647h3M548 1647h3M554 1647h3M641 1647h3M683 1647h3M696 1647h3M705 1647h5M727 1647h3M731 1647h3M740 1647h3M744 1647h3M753 1647h5M760 1647h3M768 1647h9M783 1647h3M787 1647h3M798 1647h3M802 1647h6M820 1647h4M828 1647h3M878 1647h3M458 1648h3M480 1648h3M484 1648h10M509 1648h3M513 1648h4M523 1648h3M542 1648h3M548 1648h3M554 1648h3M641 1648h3M683 1648h3M701 1648h3M705 1648h5M727 1648h8M740 1648h3M744 1648h3M753 1648h3M760 1648h3M770 1648h7M783 1648h3M787 1648h3M796 1648h3M805 1648h3M821 1648h3M828 1648h3M878 1648h3M458 1649h4M474 1649h3M480 1649h11M497 1649h6M505 1649h3M509 1649h4M514 1649h3M542 1649h3M596 1649h3M683 1649h5M701 1649h3M705 1649h5M728 1649h7M745 1649h3M771 1649h9M787 1649h3M796 1649h3M804 1649h3M811 1649h3M821 1649h3M828 1649h3M458 1650h4M474 1650h3M482 1650h7M494 1650h9M505 1650h3M509 1650h4M514 1650h3M519 1650h3M542 1650h5M596 1650h3M662 1650h3M685 1650h3M701 1650h4M719 1650h3M728 1650h7M744 1650h4M750 1650h3M756 1650h3M771 1650h3M775 1650h5M784 1650h3M796 1650h3M804 1650h3M811 1650h9M459 1651h3M474 1651h3M482 1651h7M494 1651h9M505 1651h3M510 1651h7M519 1651h3M528 1651h3M533 1651h3M543 1651h4M596 1651h3M635 1651h3M662 1651h3M685 1651h3M702 1651h3M719 1651h3M731 1651h3M744 1651h4M750 1651h3M756 1651h3M775 1651h5M784 1651h3M794 1651h3M804 1651h3M811 1651h9M825 1651h3M459 1652h3M479 1652h3M484 1652h3M491 1652h6M500 1652h3M513 1652h4M519 1652h3M525 1652h7M533 1652h3M543 1652h4M622 1652h3M635 1652h3M653 1652h3M662 1652h5M702 1652h3M719 1652h3M744 1652h3M750 1652h3M756 1652h3M761 1652h3M766 1652h3M775 1652h3M784 1652h3M794 1652h3M802 1652h3M814 1652h6M821 1652h3M825 1652h3M840 1652h3M427 1653h3M459 1653h3M479 1653h3M491 1653h3M500 1653h3M508 1653h3M513 1653h3M519 1653h13M533 1653h3M543 1653h3M622 1653h3M635 1653h3M653 1653h3M664 1653h3M698 1653h3M710 1653h3M716 1653h3M724 1653h6M733 1653h6M742 1653h5M761 1653h3M766 1653h3M775 1653h3M780 1653h3M793 1653h4M802 1653h3M821 1653h3M825 1653h3M840 1653h3M427 1654h3M452 1654h3M459 1654h3M466 1654h3M476 1654h6M491 1654h3M508 1654h3M522 1654h6M529 1654h3M561 1654h3M575 1654h3M622 1654h3M639 1654h3M653 1654h3M664 1654h3M674 1654h3M681 1654h3M694 1654h3M698 1654h3M703 1654h3M710 1654h3M716 1654h3M724 1654h6M731 1654h8M742 1654h5M761 1654h3M766 1654h3M776 1654h7M788 1654h3M793 1654h5M802 1654h3M809 1654h3M821 1654h3M826 1654h3M840 1654h3M427 1655h3M452 1655h3M463 1655h8M476 1655h3M489 1655h3M494 1655h6M508 1655h3M522 1655h3M540 1655h3M561 1655h3M575 1655h3M629 1655h3M639 1655h3M643 1655h3M674 1655h3M681 1655h3M694 1655h7M703 1655h3M710 1655h9M724 1655h6M731 1655h8M742 1655h7M764 1655h3M776 1655h7M788 1655h3M793 1655h5M809 1655h3M826 1655h3M424 1656h3M452 1656h19M476 1656h3M489 1656h3M494 1656h6M507 1656h3M534 1656h3M538 1656h5M548 1656h4M561 1656h3M575 1656h3M629 1656h3M639 1656h3M643 1656h3M674 1656h4M681 1656h3M686 1656h3M694 1656h5M701 1656h16M723 1656h5M731 1656h5M744 1656h5M764 1656h3M776 1656h4M788 1656h3M794 1656h7M809 1656h3M826 1656h3M424 1657h3M450 1657h16M468 1657h3M489 1657h11M507 1657h3M534 1657h3M538 1657h5M548 1657h4M562 1657h3M566 1657h3M595 1657h3M629 1657h3M643 1657h3M663 1657h3M675 1657h3M684 1657h5M696 1657h3M701 1657h16M723 1657h5M746 1657h3M764 1657h3M773 1657h3M794 1657h3M798 1657h3M424 1658h3M450 1658h13M490 1658h4M498 1658h3M507 1658h5M514 1658h3M525 1658h3M534 1658h3M538 1658h3M548 1658h4M562 1658h3M566 1658h3M595 1658h3M663 1658h3M675 1658h3M684 1658h6M701 1658h3M705 1658h11M723 1658h3M740 1658h3M773 1658h3M794 1658h3M798 1658h3M450 1659h3M458 1659h5M476 1659h3M490 1659h4M498 1659h4M509 1659h3M514 1659h3M525 1659h3M562 1659h3M566 1659h3M595 1659h3M663 1659h3M675 1659h3M681 1659h9M711 1659h5M735 1659h3M740 1659h3M748 1659h3M753 1659h3M773 1659h8M460 1660h3M474 1660h5M488 1660h3M498 1660h4M504 1660h3M509 1660h3M514 1660h3M525 1660h3M540 1660h3M562 1660h3M681 1660h3M687 1660h3M693 1660h5M701 1660h3M711 1660h5M733 1660h5M740 1660h3M748 1660h3M753 1660h3M776 1660h5M441 1661h3M460 1661h3M474 1661h5M488 1661h3M494 1661h3M499 1661h3M504 1661h3M525 1661h3M540 1661h3M562 1661h3M667 1661h3M681 1661h3M693 1661h6M701 1661h3M714 1661h3M719 1661h3M725 1661h6M733 1661h5M739 1661h3M748 1661h8M763 1661h3M776 1661h5M788 1661h3M800 1661h3M441 1662h3M454 1662h3M463 1662h4M474 1662h4M488 1662h3M494 1662h3M504 1662h3M540 1662h3M612 1662h3M665 1662h8M693 1662h14M714 1662h3M719 1662h3M724 1662h7M733 1662h3M739 1662h3M751 1662h3M763 1662h3M788 1662h3M795 1662h3M800 1662h3M436 1663h8M453 1663h4M463 1663h4M479 1663h3M493 1663h4M509 1663h3M612 1663h3M665 1663h8M696 1663h6M704 1663h3M714 1663h3M719 1663h3M724 1663h8M739 1663h3M743 1663h3M751 1663h3M763 1663h3M768 1663h3M788 1663h3M795 1663h3M800 1663h3M436 1664h8M453 1664h5M463 1664h4M478 1664h4M491 1664h5M498 1664h3M509 1664h3M612 1664h3M641 1664h3M649 1664h3M659 1664h3M665 1664h3M670 1664h3M696 1664h6M703 1664h4M720 1664h3M724 1664h3M728 1664h4M733 1664h3M743 1664h3M748 1664h3M755 1664h3M768 1664h3M795 1664h3M832 1664h3M436 1665h5M451 1665h7M463 1665h3M470 1665h3M478 1665h4M491 1665h5M498 1665h3M507 1665h5M576 1665h3M641 1665h3M649 1665h3M659 1665h3M669 1665h3M675 1665h3M680 1665h3M703 1665h3M720 1665h5M728 1665h4M733 1665h3M737 1665h3M743 1665h3M748 1665h3M755 1665h3M768 1665h3M811 1665h3M832 1665h3M433 1666h3M451 1666h3M455 1666h7M463 1666h3M470 1666h6M478 1666h6M487 1666h9M498 1666h4M505 1666h5M552 1666h3M562 1666h3M576 1666h3M641 1666h5M648 1666h4M659 1666h3M669 1666h3M675 1666h3M680 1666h3M703 1666h3M720 1666h5M728 1666h4M733 1666h3M737 1666h3M748 1666h6M755 1666h3M811 1666h3M832 1666h3M433 1667h3M447 1667h3M451 1667h3M458 1667h4M470 1667h7M481 1667h3M487 1667h9M499 1667h3M505 1667h5M511 1667h3M552 1667h3M562 1667h3M576 1667h3M643 1667h3M648 1667h3M669 1667h3M675 1667h4M680 1667h3M706 1667h3M721 1667h4M729 1667h3M737 1667h3M749 1667h8M762 1667h3M773 1667h3M811 1667h3M413 1668h3M433 1668h3M447 1668h7M458 1668h4M472 1668h5M481 1668h15M499 1668h4M505 1668h4M511 1668h3M552 1668h3M562 1668h3M643 1668h3M648 1668h3M676 1668h3M690 1668h6M706 1668h6M721 1668h3M728 1668h4M736 1668h3M749 1668h8M762 1668h3M773 1668h3M413 1669h3M423 1669h3M444 1669h10M461 1669h3M472 1669h5M478 1669h3M484 1669h3M490 1669h6M500 1669h3M511 1669h3M544 1669h3M649 1669h3M676 1669h3M682 1669h3M690 1669h6M706 1669h6M715 1669h4M721 1669h3M728 1669h3M736 1669h3M748 1669h9M762 1669h3M773 1669h3M413 1670h3M423 1670h3M444 1670h3M448 1670h10M461 1670h3M469 1670h12M484 1670h5M493 1670h3M499 1670h4M508 1670h3M519 1670h3M544 1670h6M563 1670h3M649 1670h4M663 1670h3M682 1670h3M690 1670h6M709 1670h3M715 1670h4M724 1670h3M728 1670h3M736 1670h3M746 1670h8M755 1670h3M773 1670h3M423 1671h3M444 1671h3M452 1671h6M461 1671h3M469 1671h3M475 1671h9M486 1671h3M493 1671h3M499 1671h3M508 1671h3M519 1671h3M527 1671h3M544 1671h6M563 1671h6M649 1671h4M663 1671h3M667 1671h3M681 1671h4M693 1671h7M709 1671h3M715 1671h4M724 1671h3M730 1671h3M746 1671h7M755 1671h3M763 1671h3M773 1671h3M795 1671h3M415 1672h3M451 1672h7M464 1672h14M481 1672h3M486 1672h9M499 1672h3M508 1672h3M515 1672h3M519 1672h3M527 1672h3M543 1672h3M547 1672h3M563 1672h6M609 1672h3M650 1672h3M663 1672h7M676 1672h3M681 1672h4M695 1672h5M709 1672h5M715 1672h3M724 1672h5M730 1672h3M746 1672h3M755 1672h3M763 1672h3M773 1672h3M777 1672h3M795 1672h3M415 1673h6M451 1673h5M464 1673h5M472 1673h3M481 1673h3M488 1673h7M515 1673h3M527 1673h3M543 1673h3M566 1673h3M589 1673h3M609 1673h3M636 1673h3M650 1673h3M661 1673h9M676 1673h3M681 1673h3M689 1673h3M695 1673h5M711 1673h9M726 1673h3M730 1673h3M745 1673h3M762 1673h4M773 1673h3M777 1673h3M795 1673h3M415 1674h6M451 1674h5M462 1674h7M472 1674h3M483 1674h4M488 1674h7M498 1674h3M515 1674h3M535 1674h3M543 1674h3M589 1674h3M605 1674h3M609 1674h4M617 1674h3M623 1674h3M636 1674h3M650 1674h3M661 1674h7M676 1674h3M684 1674h8M709 1674h11M726 1674h3M745 1674h3M760 1674h5M777 1674h3M782 1674h3M799 1674h3M418 1675h3M453 1675h3M462 1675h3M473 1675h3M483 1675h4M488 1675h5M498 1675h3M535 1675h3M589 1675h3M605 1675h3M610 1675h3M617 1675h3M623 1675h3M635 1675h4M645 1675h4M650 1675h3M661 1675h5M684 1675h8M709 1675h6M717 1675h4M742 1675h6M760 1675h5M770 1675h3M782 1675h3M799 1675h3M440 1676h8M453 1676h3M459 1676h6M466 1676h6M473 1676h3M483 1676h4M488 1676h13M535 1676h3M589 1676h3M600 1676h3M605 1676h3M610 1676h3M617 1676h3M623 1676h3M635 1676h3M645 1676h5M661 1676h4M672 1676h3M684 1676h7M698 1676h3M703 1676h3M709 1676h6M718 1676h3M724 1676h3M742 1676h3M760 1676h3M770 1676h3M782 1676h3M799 1676h3M429 1677h3M440 1677h8M459 1677h4M466 1677h6M473 1677h3M487 1677h14M515 1677h3M540 1677h3M600 1677h3M635 1677h4M645 1677h9M661 1677h4M672 1677h3M676 1677h3M687 1677h6M696 1677h5M703 1677h3M711 1677h10M722 1677h5M731 1677h5M742 1677h3M756 1677h3M770 1677h4M429 1678h6M440 1678h8M459 1678h4M466 1678h8M484 1678h6M493 1678h8M507 1678h3M515 1678h3M535 1678h3M540 1678h3M547 1678h3M600 1678h3M636 1678h3M647 1678h7M662 1678h3M672 1678h3M676 1678h3M690 1678h4M696 1678h5M703 1678h4M709 1678h9M722 1678h5M731 1678h7M742 1678h3M756 1678h3M771 1678h3M410 1679h3M429 1679h6M438 1679h3M448 1679h3M459 1679h4M465 1679h3M470 1679h4M484 1679h6M503 1679h3M507 1679h7M515 1679h3M535 1679h3M540 1679h3M545 1679h5M607 1679h3M636 1679h3M646 1679h3M650 1679h4M667 1679h3M675 1679h4M690 1679h4M696 1679h7M704 1679h3M709 1679h9M722 1679h3M731 1679h7M742 1679h3M756 1679h3M771 1679h3M781 1679h3M787 1679h3M410 1680h3M417 1680h3M432 1680h5M438 1680h3M443 1680h8M465 1680h9M479 1680h8M496 1680h3M502 1680h4M507 1680h7M535 1680h3M545 1680h5M601 1680h3M607 1680h3M613 1680h3M646 1680h3M650 1680h3M655 1680h3M667 1680h3M675 1680h8M690 1680h4M698 1680h5M704 1680h3M709 1680h6M722 1680h3M735 1680h3M742 1680h3M781 1680h3M787 1680h3M410 1681h3M417 1681h3M434 1681h3M438 1681h13M461 1681h3M465 1681h5M473 1681h3M479 1681h6M492 1681h3M496 1681h3M502 1681h4M507 1681h7M545 1681h3M551 1681h3M570 1681h3M581 1681h3M601 1681h3M607 1681h3M613 1681h3M617 1681h3M646 1681h3M650 1681h3M655 1681h3M663 1681h3M667 1681h16M689 1681h3M694 1681h3M698 1681h9M708 1681h7M716 1681h3M722 1681h3M742 1681h3M781 1681h3M787 1681h3M407 1682h3M417 1682h3M434 1682h3M441 1682h7M453 1682h3M461 1682h3M467 1682h3M473 1682h3M479 1682h7M492 1682h3M496 1682h3M502 1682h8M524 1682h3M551 1682h3M570 1682h3M581 1682h3M595 1682h3M601 1682h3M613 1682h3M617 1682h3M650 1682h3M654 1682h4M663 1682h3M668 1682h20M689 1682h3M693 1682h4M699 1682h6M708 1682h3M714 1682h6M724 1682h3M729 1682h3M733 1682h3M737 1682h3M786 1682h3M401 1683h3M407 1683h3M436 1683h8M445 1683h3M449 1683h3M453 1683h3M461 1683h3M473 1683h3M483 1683h3M492 1683h3M503 1683h5M524 1683h3M551 1683h3M570 1683h3M581 1683h3M595 1683h3M617 1683h3M626 1683h3M650 1683h3M654 1683h3M663 1683h3M668 1683h20M689 1683h3M693 1683h4M702 1683h3M708 1683h12M724 1683h8M733 1683h3M737 1683h3M741 1683h3M786 1683h3M401 1684h3M407 1684h3M436 1684h8M445 1684h3M449 1684h3M453 1684h3M464 1684h6M482 1684h7M492 1684h3M497 1684h3M503 1684h10M524 1684h3M595 1684h3M610 1684h3M626 1684h3M642 1684h3M652 1684h6M662 1684h9M672 1684h3M677 1684h3M681 1684h10M693 1684h3M709 1684h11M724 1684h8M733 1684h3M737 1684h3M741 1684h3M750 1684h3M786 1684h3M351 1685h3M401 1685h3M413 1685h3M429 1685h4M436 1685h8M445 1685h7M459 1685h3M464 1685h6M482 1685h7M492 1685h3M497 1685h3M504 1685h9M606 1685h3M610 1685h3M626 1685h3M642 1685h3M652 1685h6M661 1685h7M672 1685h3M683 1685h3M688 1685h3M700 1685h3M705 1685h3M709 1685h8M727 1685h3M741 1685h3M750 1685h5M768 1685h3M351 1686h3M413 1686h3M427 1686h6M435 1686h3M440 1686h3M446 1686h5M453 1686h3M459 1686h3M464 1686h6M482 1686h7M492 1686h4M497 1686h3M504 1686h9M578 1686h3M606 1686h3M610 1686h3M618 1686h3M642 1686h3M651 1686h17M672 1686h3M683 1686h3M688 1686h6M700 1686h4M705 1686h3M709 1686h7M720 1686h3M729 1686h3M735 1686h3M750 1686h5M768 1686h3M351 1687h3M411 1687h5M417 1687h5M425 1687h8M435 1687h16M453 1687h3M459 1687h3M464 1687h3M468 1687h4M474 1687h4M479 1687h3M485 1687h6M493 1687h3M510 1687h3M578 1687h3M599 1687h3M606 1687h3M618 1687h3M622 1687h3M646 1687h3M651 1687h15M683 1687h3M688 1687h6M698 1687h6M705 1687h3M709 1687h3M713 1687h6M720 1687h3M726 1687h6M735 1687h3M752 1687h3M768 1687h3M406 1688h3M411 1688h3M417 1688h13M434 1688h8M443 1688h8M453 1688h6M464 1688h3M468 1688h4M474 1688h8M485 1688h6M493 1688h4M513 1688h3M578 1688h3M596 1688h6M618 1688h3M622 1688h3M642 1688h3M646 1688h3M651 1688h6M658 1688h8M668 1688h3M676 1688h3M683 1688h3M688 1688h6M698 1688h6M716 1688h3M720 1688h3M726 1688h6M735 1688h6M377 1689h3M388 1689h3M406 1689h3M411 1689h3M415 1689h14M434 1689h8M443 1689h3M456 1689h3M468 1689h4M473 1689h9M485 1689h6M494 1689h3M513 1689h3M596 1689h6M622 1689h3M633 1689h5M642 1689h3M646 1689h3M651 1689h6M658 1689h5M668 1689h3M673 1689h6M683 1689h3M688 1689h5M698 1689h6M716 1689h3M726 1689h4M738 1689h3M377 1690h3M388 1690h3M406 1690h3M415 1690h3M419 1690h10M433 1690h4M443 1690h3M449 1690h3M453 1690h6M471 1690h8M487 1690h3M494 1690h3M513 1690h3M594 1690h5M627 1690h3M633 1690h6M642 1690h3M658 1690h3M666 1690h5M673 1690h12M689 1690h3M698 1690h3M707 1690h3M717 1690h5M727 1690h6M738 1690h3M377 1691h3M388 1691h3M399 1691h3M403 1691h3M415 1691h14M433 1691h3M440 1691h8M449 1691h9M461 1691h3M466 1691h3M471 1691h8M487 1691h3M494 1691h3M543 1691h3M593 1691h4M600 1691h3M608 1691h3M617 1691h3M623 1691h3M627 1691h3M632 1691h7M644 1691h3M650 1691h3M658 1691h6M666 1691h5M673 1691h13M698 1691h3M707 1691h5M717 1691h5M727 1691h6M745 1691h3M399 1692h3M403 1692h3M409 1692h3M417 1692h3M422 1692h7M433 1692h6M440 1692h3M445 1692h3M449 1692h9M461 1692h8M471 1692h3M476 1692h3M501 1692h3M543 1692h3M571 1692h3M593 1692h4M600 1692h5M608 1692h5M617 1692h3M623 1692h3M627 1692h3M632 1692h7M644 1692h3M650 1692h3M661 1692h3M666 1692h5M675 1692h12M698 1692h3M707 1692h5M717 1692h5M730 1692h6M745 1692h3M750 1692h3M399 1693h3M403 1693h3M409 1693h3M417 1693h3M422 1693h8M436 1693h3M440 1693h3M445 1693h3M449 1693h9M461 1693h8M470 1693h3M487 1693h3M501 1693h3M542 1693h4M571 1693h3M583 1693h3M593 1693h3M600 1693h5M608 1693h5M616 1693h5M623 1693h3M627 1693h3M631 1693h4M641 1693h6M650 1693h3M661 1693h3M666 1693h3M675 1693h12M697 1693h3M703 1693h3M707 1693h5M733 1693h3M745 1693h3M750 1693h3M384 1694h3M403 1694h3M409 1694h3M418 1694h12M433 1694h6M445 1694h3M450 1694h8M460 1694h6M470 1694h3M475 1694h3M487 1694h3M494 1694h3M501 1694h3M519 1694h3M542 1694h3M570 1694h4M583 1694h3M602 1694h4M608 1694h5M616 1694h5M623 1694h11M638 1694h10M653 1694h3M660 1694h3M666 1694h3M670 1694h3M679 1694h3M684 1694h3M697 1694h3M703 1694h3M707 1694h3M733 1694h3M750 1694h3M384 1695h4M403 1695h4M415 1695h15M433 1695h3M450 1695h4M460 1695h7M470 1695h3M475 1695h3M483 1695h3M487 1695h3M492 1695h5M507 1695h5M515 1695h3M519 1695h3M542 1695h3M570 1695h3M583 1695h3M588 1695h6M602 1695h4M616 1695h5M623 1695h11M635 1695h13M651 1695h5M660 1695h3M666 1695h3M670 1695h3M683 1695h7M697 1695h3M703 1695h6M367 1696h3M384 1696h4M396 1696h3M403 1696h4M415 1696h8M424 1696h3M433 1696h3M450 1696h4M455 1696h3M460 1696h3M464 1696h3M469 1696h4M475 1696h3M483 1696h3M492 1696h5M507 1696h5M515 1696h3M519 1696h3M542 1696h3M570 1696h3M588 1696h6M602 1696h4M618 1696h4M623 1696h20M645 1696h3M651 1696h5M660 1696h6M670 1696h3M676 1696h3M681 1696h9M691 1696h4M697 1696h3M706 1696h3M723 1696h3M367 1697h3M385 1697h3M391 1697h3M396 1697h3M402 1697h8M415 1697h3M422 1697h5M431 1697h3M440 1697h3M447 1697h3M455 1697h3M460 1697h7M469 1697h5M483 1697h3M492 1697h3M507 1697h5M515 1697h3M521 1697h3M555 1697h3M579 1697h3M588 1697h6M595 1697h5M606 1697h3M619 1697h3M630 1697h13M646 1697h3M650 1697h4M663 1697h3M670 1697h9M681 1697h9M691 1697h4M706 1697h4M723 1697h3M367 1698h3M372 1698h3M383 1698h4M391 1698h3M396 1698h4M402 1698h3M406 1698h4M415 1698h3M420 1698h5M431 1698h3M440 1698h3M447 1698h3M455 1698h3M460 1698h7M469 1698h5M482 1698h3M496 1698h3M515 1698h3M521 1698h3M537 1698h3M555 1698h3M575 1698h3M579 1698h3M595 1698h8M606 1698h3M619 1698h3M625 1698h4M631 1698h12M646 1698h3M650 1698h3M657 1698h3M663 1698h3M672 1698h23M707 1698h10M723 1698h3M372 1699h3M383 1699h4M391 1699h3M397 1699h3M402 1699h8M415 1699h4M420 1699h5M431 1699h3M435 1699h3M440 1699h3M447 1699h3M455 1699h3M462 1699h5M468 1699h9M482 1699h6M496 1699h3M515 1699h3M521 1699h3M537 1699h3M555 1699h3M559 1699h3M567 1699h3M575 1699h3M579 1699h3M595 1699h8M606 1699h3M616 1699h5M625 1699h5M631 1699h7M646 1699h3M650 1699h5M657 1699h3M672 1699h9M684 1699h7M703 1699h14M372 1700h3M383 1700h4M397 1700h3M401 1700h13M416 1700h3M420 1700h8M429 1700h9M440 1700h3M447 1700h3M455 1700h3M463 1700h3M468 1700h3M474 1700h3M482 1700h7M496 1700h3M515 1700h3M537 1700h3M559 1700h3M565 1700h5M575 1700h4M600 1700h5M616 1700h5M625 1700h5M631 1700h4M648 1700h3M652 1700h3M657 1700h3M669 1700h3M678 1700h3M686 1700h6M694 1700h3M702 1700h15M390 1701h3M401 1701h5M408 1701h7M416 1701h3M420 1701h8M429 1701h9M440 1701h3M450 1701h3M455 1701h3M467 1701h4M473 1701h4M485 1701h4M559 1701h3M565 1701h5M576 1701h3M580 1701h3M602 1701h3M611 1701h3M616 1701h5M627 1701h3M631 1701h5M648 1701h3M652 1701h3M659 1701h3M667 1701h5M680 1701h3M688 1701h4M694 1701h3M702 1701h7M714 1701h3M390 1702h3M401 1702h4M407 1702h11M420 1702h3M424 1702h13M440 1702h3M449 1702h4M455 1702h4M467 1702h3M473 1702h7M484 1702h5M495 1702h6M565 1702h6M576 1702h3M580 1702h3M602 1702h3M611 1702h3M616 1702h5M624 1702h3M631 1702h5M648 1702h3M652 1702h11M665 1702h10M678 1702h5M688 1702h4M694 1702h3M701 1702h4M706 1702h5M371 1703h3M390 1703h3M401 1703h17M424 1703h3M428 1703h7M436 1703h3M440 1703h3M449 1703h4M455 1703h4M463 1703h7M473 1703h7M484 1703h3M495 1703h6M553 1703h3M568 1703h3M580 1703h3M598 1703h3M602 1703h6M611 1703h5M620 1703h3M624 1703h3M633 1703h3M639 1703h3M650 1703h3M654 1703h10M665 1703h5M672 1703h5M678 1703h5M701 1703h3M706 1703h5M362 1704h3M371 1704h3M380 1704h5M390 1704h3M401 1704h13M415 1704h4M424 1704h3M428 1704h11M440 1704h6M449 1704h3M456 1704h3M463 1704h6M473 1704h7M484 1704h3M495 1704h6M553 1704h5M568 1704h3M587 1704h3M593 1704h3M598 1704h3M602 1704h6M613 1704h5M620 1704h3M624 1704h3M639 1704h3M650 1704h14M665 1704h6M672 1704h9M701 1704h3M708 1704h3M362 1705h3M371 1705h3M380 1705h5M386 1705h3M390 1705h6M401 1705h8M410 1705h9M424 1705h3M429 1705h4M435 1705h4M440 1705h9M456 1705h3M460 1705h9M473 1705h6M553 1705h6M573 1705h4M587 1705h3M593 1705h15M609 1705h3M613 1705h5M620 1705h3M627 1705h5M639 1705h3M650 1705h14M665 1705h6M673 1705h6M701 1705h6M724 1705h3M362 1706h3M380 1706h19M401 1706h3M406 1706h3M410 1706h9M424 1706h4M429 1706h4M435 1706h3M443 1706h6M456 1706h3M460 1706h3M464 1706h3M476 1706h3M498 1706h3M506 1706h3M524 1706h3M555 1706h4M570 1706h7M587 1706h3M593 1706h14M609 1706h17M627 1706h8M636 1706h3M645 1706h3M651 1706h7M663 1706h8M676 1706h3M694 1706h3M704 1706h3M724 1706h3M385 1707h19M406 1707h3M411 1707h7M421 1707h12M444 1707h5M454 1707h9M464 1707h3M476 1707h3M498 1707h3M506 1707h3M524 1707h3M556 1707h3M562 1707h5M569 1707h11M587 1707h3M594 1707h11M609 1707h26M636 1707h3M645 1707h3M653 1707h5M663 1707h5M694 1707h3M704 1707h4M710 1707h3M724 1707h3M385 1708h9M395 1708h9M406 1708h3M411 1708h3M415 1708h17M437 1708h3M444 1708h3M454 1708h6M498 1708h3M506 1708h3M524 1708h3M543 1708h3M557 1708h3M562 1708h5M569 1708h6M577 1708h3M581 1708h9M593 1708h4M606 1708h24M632 1708h3M636 1708h3M645 1708h3M651 1708h6M663 1708h9M680 1708h3M684 1708h3M694 1708h3M705 1708h3M710 1708h4M373 1709h3M387 1709h7M395 1709h7M403 1709h5M410 1709h3M415 1709h19M437 1709h3M444 1709h7M454 1709h6M495 1709h3M523 1709h3M543 1709h3M549 1709h3M554 1709h6M562 1709h5M569 1709h5M576 1709h22M604 1709h10M618 1709h14M636 1709h3M640 1709h3M645 1709h3M651 1709h6M660 1709h3M666 1709h6M680 1709h3M684 1709h3M688 1709h3M705 1709h3M710 1709h4M715 1709h3M373 1710h6M380 1710h3M386 1710h5M396 1710h4M403 1710h5M410 1710h30M443 1710h8M495 1710h3M514 1710h3M523 1710h3M529 1710h3M543 1710h3M549 1710h3M554 1710h6M563 1710h3M567 1710h3M571 1710h27M601 1710h9M613 1710h3M619 1710h13M636 1710h7M645 1710h12M660 1710h3M666 1710h17M684 1710h3M688 1710h3M711 1710h3M715 1710h3M373 1711h10M385 1711h9M396 1711h3M401 1711h7M410 1711h14M425 1711h4M431 1711h9M443 1711h9M471 1711h3M495 1711h3M514 1711h3M521 1711h11M543 1711h3M549 1711h3M554 1711h3M560 1711h6M567 1711h3M571 1711h10M583 1711h3M587 1711h20M611 1711h5M619 1711h3M624 1711h8M638 1711h5M644 1711h7M653 1711h4M660 1711h3M667 1711h3M672 1711h8M684 1711h3M688 1711h3M695 1711h3M715 1711h3M350 1712h3M355 1712h3M364 1712h3M373 1712h11M385 1712h9M396 1712h8M410 1712h11M422 1712h18M441 1712h6M449 1712h3M456 1712h3M471 1712h3M486 1712h3M514 1712h3M521 1712h3M526 1712h6M543 1712h3M560 1712h3M566 1712h4M574 1712h3M587 1712h3M593 1712h12M611 1712h5M619 1712h13M636 1712h7M644 1712h3M648 1712h3M652 1712h7M662 1712h3M672 1712h8M684 1712h7M695 1712h3M707 1712h3M350 1713h3M355 1713h3M364 1713h3M373 1713h3M378 1713h6M385 1713h3M389 1713h6M399 1713h5M405 1713h3M410 1713h3M415 1713h6M422 1713h13M437 1713h3M441 1713h6M449 1713h3M456 1713h3M471 1713h3M486 1713h3M492 1713h5M521 1713h3M526 1713h5M554 1713h3M560 1713h3M566 1713h3M576 1713h4M583 1713h3M595 1713h10M610 1713h7M619 1713h7M627 1713h3M636 1713h6M644 1713h3M652 1713h3M656 1713h3M662 1713h3M671 1713h7M684 1713h7M695 1713h3M707 1713h3M350 1714h3M355 1714h3M360 1714h3M364 1714h3M370 1714h3M378 1714h6M389 1714h6M396 1714h8M405 1714h4M410 1714h3M415 1714h5M421 1714h10M432 1714h3M436 1714h11M450 1714h3M456 1714h3M486 1714h3M492 1714h5M528 1714h3M544 1714h3M554 1714h4M566 1714h9M576 1714h5M583 1714h5M593 1714h3M601 1714h3M609 1714h8M618 1714h8M629 1714h4M634 1714h8M652 1714h3M656 1714h3M662 1714h3M671 1714h7M683 1714h6M707 1714h3M360 1715h4M370 1715h3M376 1715h4M389 1715h6M396 1715h3M400 1715h13M415 1715h4M421 1715h9M432 1715h3M436 1715h5M443 1715h10M457 1715h3M469 1715h8M492 1715h5M504 1715h3M528 1715h3M544 1715h3M553 1715h5M566 1715h9M576 1715h5M583 1715h5M590 1715h8M599 1715h3M609 1715h8M618 1715h19M638 1715h4M649 1715h3M655 1715h3M665 1715h3M671 1715h6M683 1715h5M708 1715h3M360 1716h4M370 1716h11M382 1716h6M389 1716h6M396 1716h4M401 1716h12M415 1716h15M432 1716h9M446 1716h7M457 1716h3M469 1716h8M504 1716h3M518 1716h3M541 1716h6M553 1716h5M566 1716h10M577 1716h5M585 1716h3M590 1716h14M609 1716h28M639 1716h7M649 1716h3M655 1716h3M665 1716h3M674 1716h3M678 1716h3M683 1716h5M708 1716h3M354 1717h3M361 1717h6M373 1717h8M382 1717h13M397 1717h3M401 1717h13M415 1717h13M432 1717h6M446 1717h6M457 1717h4M469 1717h8M504 1717h3M518 1717h3M541 1717h3M553 1717h8M566 1717h3M570 1717h14M590 1717h3M595 1717h9M607 1717h11M624 1717h6M633 1717h15M649 1717h3M655 1717h3M661 1717h3M665 1717h3M674 1717h3M678 1717h3M692 1717h3M708 1717h3M350 1718h3M354 1718h3M361 1718h6M368 1718h3M373 1718h8M382 1718h10M395 1718h5M401 1718h14M419 1718h12M432 1718h6M449 1718h4M457 1718h4M479 1718h3M518 1718h3M532 1718h3M541 1718h3M548 1718h3M555 1718h7M570 1718h14M585 1718h3M598 1718h20M620 1718h3M624 1718h6M633 1718h6M640 1718h8M661 1718h3M669 1718h3M678 1718h3M692 1718h3M350 1719h3M354 1719h3M361 1719h6M368 1719h5M375 1719h7M384 1719h7M393 1719h11M406 1719h9M422 1719h9M432 1719h6M450 1719h3M457 1719h4M466 1719h3M479 1719h3M532 1719h3M541 1719h4M548 1719h3M555 1719h7M565 1719h6M572 1719h7M581 1719h3M585 1719h6M595 1719h3M601 1719h11M613 1719h5M620 1719h3M624 1719h5M633 1719h6M643 1719h5M653 1719h3M660 1719h4M669 1719h3M692 1719h3M326 1720h3M334 1720h3M344 1720h3M350 1720h6M358 1720h3M363 1720h19M384 1720h20M406 1720h9M422 1720h9M432 1720h6M450 1720h6M466 1720h3M479 1720h3M504 1720h3M532 1720h3M542 1720h3M548 1720h6M556 1720h15M572 1720h5M581 1720h11M595 1720h6M604 1720h10M620 1720h3M626 1720h10M638 1720h3M643 1720h6M652 1720h4M660 1720h3M669 1720h3M326 1721h3M334 1721h3M344 1721h3M353 1721h32M386 1721h17M406 1721h17M430 1721h3M435 1721h6M448 1721h8M466 1721h3M504 1721h3M538 1721h3M542 1721h3M548 1721h7M556 1721h15M572 1721h5M583 1721h3M588 1721h16M607 1721h7M620 1721h3M626 1721h10M637 1721h4M643 1721h13M660 1721h3M669 1721h3M326 1722h3M333 1722h4M340 1722h3M344 1722h3M352 1722h33M386 1722h9M397 1722h5M405 1722h18M430 1722h3M435 1722h6M447 1722h4M453 1722h3M504 1722h3M538 1722h3M548 1722h7M557 1722h20M583 1722h4M589 1722h7M597 1722h7M607 1722h7M623 1722h18M646 1722h10M673 1722h3M333 1723h3M340 1723h4M352 1723h6M359 1723h5M366 1723h29M396 1723h5M402 1723h11M414 1723h9M426 1723h3M430 1723h3M435 1723h6M447 1723h4M471 1723h3M538 1723h3M549 1723h6M557 1723h4M565 1723h15M584 1723h12M597 1723h7M609 1723h3M613 1723h3M617 1723h3M622 1723h4M628 1723h4M633 1723h7M646 1723h10M673 1723h3M333 1724h3M340 1724h4M352 1724h5M359 1724h5M365 1724h30M396 1724h23M420 1724h3M426 1724h3M430 1724h3M435 1724h3M447 1724h3M464 1724h3M471 1724h3M510 1724h3M535 1724h3M550 1724h3M557 1724h6M565 1724h17M584 1724h10M597 1724h6M606 1724h10M617 1724h4M622 1724h4M628 1724h4M633 1724h6M642 1724h3M648 1724h3M652 1724h3M664 1724h3M673 1724h5M685 1724h3M341 1725h3M359 1725h36M396 1725h9M407 1725h12M420 1725h10M435 1725h3M441 1725h3M464 1725h3M471 1725h3M497 1725h3M510 1725h3M535 1725h4M550 1725h13M565 1725h17M587 1725h7M597 1725h19M617 1725h8M628 1725h4M633 1725h3M642 1725h4M647 1725h4M652 1725h3M664 1725h3M675 1725h3M685 1725h3M693 1725h3M358 1726h19M379 1726h12M392 1726h6M399 1726h3M407 1726h12M420 1726h10M441 1726h3M464 1726h3M497 1726h3M504 1726h3M510 1726h3M535 1726h4M548 1726h15M565 1726h19M590 1726h4M595 1726h3M599 1726h3M603 1726h7M611 1726h6M618 1726h7M635 1726h3M640 1726h6M647 1726h4M664 1726h3M675 1726h3M685 1726h3M693 1726h3M317 1727h3M330 1727h3M338 1727h6M348 1727h8M358 1727h19M378 1727h12M391 1727h7M399 1727h5M408 1727h4M413 1727h4M422 1727h4M427 1727h3M431 1727h6M441 1727h3M448 1727h3M497 1727h3M504 1727h3M530 1727h3M535 1727h4M545 1727h19M568 1727h3M573 1727h5M579 1727h5M590 1727h8M599 1727h3M603 1727h6M611 1727h7M621 1727h3M626 1727h4M635 1727h3M640 1727h6M647 1727h6M661 1727h6M673 1727h3M685 1727h3M693 1727h3M317 1728h3M330 1728h3M338 1728h18M358 1728h6M365 1728h12M378 1728h10M389 1728h15M406 1728h12M422 1728h4M430 1728h7M448 1728h3M504 1728h3M514 1728h3M527 1728h6M535 1728h4M540 1728h3M545 1728h7M554 1728h10M570 1728h17M592 1728h10M605 1728h4M610 1728h8M620 1728h3M626 1728h4M633 1728h5M639 1728h4M647 1728h9M661 1728h6M673 1728h3M685 1728h3M317 1729h3M330 1729h3M335 1729h21M358 1729h17M378 1729h16M397 1729h8M406 1729h12M423 1729h4M430 1729h10M444 1729h3M448 1729h3M504 1729h3M514 1729h3M521 1729h5M527 1729h6M536 1729h21M558 1729h9M568 1729h15M584 1729h3M589 1729h35M626 1729h10M639 1729h3M645 1729h11M661 1729h3M673 1729h3M312 1730h3M335 1730h3M344 1730h12M358 1730h12M371 1730h5M378 1730h17M397 1730h12M410 1730h8M421 1730h6M430 1730h5M437 1730h3M444 1730h3M488 1730h3M506 1730h3M514 1730h3M521 1730h5M527 1730h3M532 1730h3M536 1730h21M560 1730h3M564 1730h11M576 1730h29M606 1730h18M626 1730h10M639 1730h3M645 1730h5M653 1730h3M659 1730h3M312 1731h3M335 1731h3M340 1731h3M348 1731h8M358 1731h49M411 1731h8M421 1731h6M432 1731h3M436 1731h4M444 1731h3M466 1731h3M488 1731h3M506 1731h3M521 1731h6M532 1731h3M538 1731h3M542 1731h18M564 1731h15M580 1731h25M606 1731h18M626 1731h9M636 1731h3M645 1731h3M659 1731h3M312 1732h3M340 1732h3M349 1732h3M353 1732h3M357 1732h40M398 1732h4M404 1732h3M411 1732h8M421 1732h3M432 1732h3M436 1732h5M462 1732h3M466 1732h3M474 1732h3M488 1732h9M499 1732h3M506 1732h3M513 1732h3M520 1732h3M524 1732h6M532 1732h3M540 1732h20M562 1732h16M580 1732h10M591 1732h8M603 1732h3M607 1732h5M613 1732h10M626 1732h4M632 1732h3M636 1732h3M659 1732h3M335 1733h4M340 1733h3M347 1733h8M357 1733h40M398 1733h4M408 1733h11M421 1733h3M433 1733h8M462 1733h3M466 1733h3M474 1733h3M491 1733h6M499 1733h5M513 1733h3M520 1733h11M540 1733h3M546 1733h5M552 1733h39M593 1733h3M598 1733h3M603 1733h3M607 1733h5M613 1733h5M620 1733h3M627 1733h8M636 1733h3M319 1734h3M326 1734h3M335 1734h4M347 1734h8M357 1734h40M399 1734h3M403 1734h3M408 1734h3M421 1734h3M433 1734h3M437 1734h6M462 1734h3M474 1734h3M491 1734h6M499 1734h5M513 1734h3M518 1734h17M536 1734h9M546 1734h3M552 1734h3M557 1734h39M598 1734h3M603 1734h3M612 1734h7M620 1734h3M625 1734h8M646 1734h3M319 1735h3M326 1735h3M335 1735h4M342 1735h3M347 1735h4M352 1735h4M358 1735h3M362 1735h35M399 1735h12M433 1735h3M437 1735h6M479 1735h3M498 1735h6M518 1735h3M523 1735h18M542 1735h3M553 1735h3M557 1735h14M572 1735h29M607 1735h8M616 1735h7M625 1735h3M629 1735h4M639 1735h3M646 1735h3M314 1736h3M319 1736h5M326 1736h3M339 1736h6M347 1736h3M352 1736h4M358 1736h3M362 1736h35M399 1736h11M437 1736h6M446 1736h3M470 1736h3M479 1736h3M498 1736h6M518 1736h3M524 1736h21M549 1736h3M553 1736h3M558 1736h14M573 1736h9M583 1736h23M607 1736h8M616 1736h5M622 1736h6M631 1736h3M639 1736h5M646 1736h3M314 1737h6M321 1737h3M326 1737h4M339 1737h7M347 1737h3M352 1737h4M358 1737h3M362 1737h19M382 1737h14M399 1737h11M415 1737h3M419 1737h8M446 1737h3M463 1737h3M470 1737h3M479 1737h3M492 1737h3M498 1737h6M515 1737h6M524 1737h3M528 1737h10M541 1737h3M545 1737h7M553 1737h3M558 1737h15M574 1737h3M579 1737h9M589 1737h3M593 1737h13M607 1737h6M616 1737h5M622 1737h5M631 1737h3M639 1737h7M314 1738h6M321 1738h3M326 1738h7M339 1738h17M358 1738h23M382 1738h12M399 1738h11M413 1738h14M446 1738h3M462 1738h4M470 1738h3M479 1738h3M490 1738h5M501 1738h3M515 1738h6M528 1738h12M541 1738h3M545 1738h7M553 1738h3M559 1738h14M574 1738h32M607 1738h6M616 1738h14M631 1738h3M639 1738h7M317 1739h7M326 1739h7M335 1739h3M340 1739h17M358 1739h21M381 1739h15M399 1739h11M411 1739h16M446 1739h3M462 1739h4M470 1739h3M479 1739h6M490 1739h9M500 1739h3M512 1739h9M529 1739h11M543 1739h8M553 1739h3M560 1739h9M570 1739h3M577 1739h37M616 1739h14M639 1739h3M643 1739h3M293 1740h3M317 1740h7M326 1740h8M335 1740h54M391 1740h5M400 1740h3M411 1740h9M424 1740h3M446 1740h3M457 1740h3M462 1740h3M470 1740h6M482 1740h3M487 1740h12M500 1740h5M512 1740h8M523 1740h4M529 1740h4M534 1740h6M543 1740h6M556 1740h13M572 1740h3M577 1740h5M583 1740h16M601 1740h24M627 1740h5M639 1740h3M643 1740h3M658 1740h3M293 1741h3M317 1741h6M326 1741h8M335 1741h37M373 1741h16M391 1741h5M399 1741h7M411 1741h8M457 1741h3M468 1741h3M473 1741h6M482 1741h3M487 1741h3M493 1741h6M500 1741h5M512 1741h3M516 1741h4M523 1741h4M530 1741h7M540 1741h9M554 1741h15M572 1741h10M583 1741h5M589 1741h3M593 1741h6M601 1741h8M611 1741h7M623 1741h3M629 1741h3M643 1741h3M658 1741h3M293 1742h3M315 1742h13M330 1742h4M335 1742h54M391 1742h16M409 1742h10M428 1742h6M446 1742h3M457 1742h3M468 1742h3M473 1742h6M481 1742h4M487 1742h3M496 1742h3M502 1742h3M511 1742h3M516 1742h4M523 1742h7M532 1742h17M550 1742h3M554 1742h34M589 1742h3M593 1742h6M601 1742h4M612 1742h6M620 1742h12M643 1742h5M658 1742h3M291 1743h3M315 1743h13M329 1743h50M382 1743h7M391 1743h16M409 1743h10M428 1743h6M446 1743h3M468 1743h3M476 1743h3M481 1743h3M487 1743h3M492 1743h3M509 1743h5M516 1743h6M526 1743h5M532 1743h21M554 1743h33M593 1743h8M602 1743h3M606 1743h3M610 1743h5M620 1743h12M645 1743h3M291 1744h3M299 1744h3M315 1744h4M320 1744h19M340 1744h42M383 1744h6M391 1744h11M404 1744h3M409 1744h3M421 1744h3M428 1744h6M446 1744h3M478 1744h7M486 1744h4M492 1744h3M498 1744h5M509 1744h15M526 1744h5M532 1744h21M554 1744h3M558 1744h21M580 1744h7M593 1744h12M606 1744h3M610 1744h5M620 1744h12M645 1744h3M659 1744h3M291 1745h3M299 1745h3M314 1745h18M334 1745h48M383 1745h7M394 1745h8M420 1745h4M465 1745h3M478 1745h7M486 1745h9M498 1745h5M506 1745h6M514 1745h43M558 1745h9M568 1745h10M580 1745h7M589 1745h20M610 1745h3M622 1745h3M627 1745h3M659 1745h3M294 1746h3M298 1746h4M305 1746h3M314 1746h9M325 1746h6M334 1746h39M374 1746h33M408 1746h3M420 1746h4M464 1746h5M475 1746h18M496 1746h7M506 1746h27M534 1746h23M558 1746h10M569 1746h9M579 1746h8M589 1746h20M622 1746h3M659 1746h3M294 1747h3M298 1747h3M305 1747h3M314 1747h9M325 1747h6M334 1747h40M379 1747h32M420 1747h3M464 1747h5M475 1747h3M479 1747h3M483 1747h10M496 1747h18M517 1747h3M522 1747h19M544 1747h33M579 1747h7M587 1747h13M601 1747h8M611 1747h8M620 1747h3M294 1748h3M298 1748h3M305 1748h3M315 1748h11M328 1748h5M335 1748h39M380 1748h31M417 1748h3M454 1748h3M464 1748h5M472 1748h9M483 1748h10M496 1748h18M515 1748h3M522 1748h4M527 1748h14M544 1748h9M556 1748h30M587 1748h3M591 1748h7M601 1748h3M606 1748h3M611 1748h8M620 1748h3M626 1748h4M270 1749h3M298 1749h6M308 1749h18M328 1749h5M337 1749h17M356 1749h14M371 1749h3M375 1749h3M380 1749h10M391 1749h10M403 1749h6M417 1749h3M454 1749h3M459 1749h3M472 1749h3M478 1749h3M482 1749h11M496 1749h22M519 1749h6M527 1749h52M581 1749h5M587 1749h3M595 1749h3M601 1749h3M611 1749h8M620 1749h3M626 1749h4M270 1750h3M282 1750h3M292 1750h3M301 1750h3M306 1750h20M328 1750h5M336 1750h19M356 1750h7M364 1750h10M375 1750h3M385 1750h5M391 1750h8M403 1750h5M417 1750h5M454 1750h3M459 1750h3M468 1750h3M472 1750h3M478 1750h7M486 1750h32M519 1750h18M538 1750h26M567 1750h12M586 1750h4M595 1750h3M603 1750h3M611 1750h3M618 1750h3M626 1750h4M270 1751h3M282 1751h3M292 1751h3M301 1751h4M306 1751h18M326 1751h29M356 1751h18M375 1751h3M385 1751h5M391 1751h8M403 1751h5M417 1751h5M431 1751h3M452 1751h3M459 1751h3M468 1751h3M472 1751h3M479 1751h6M486 1751h6M493 1751h7M501 1751h22M524 1751h13M538 1751h28M568 1751h11M586 1751h4M603 1751h5M610 1751h3M618 1751h3M282 1752h4M292 1752h4M298 1752h3M302 1752h3M306 1752h18M326 1752h49M376 1752h3M387 1752h7M395 1752h3M414 1752h8M431 1752h6M452 1752h3M468 1752h3M472 1752h3M479 1752h3M483 1752h3M487 1752h5M493 1752h6M501 1752h26M528 1752h5M537 1752h10M548 1752h18M567 1752h13M581 1752h4M586 1752h3M603 1752h5M610 1752h3M618 1752h3M283 1753h3M290 1753h6M297 1753h4M302 1753h73M376 1753h3M390 1753h11M402 1753h3M411 1753h11M423 1753h3M431 1753h6M452 1753h3M464 1753h3M468 1753h3M472 1753h4M483 1753h9M494 1753h20M515 1753h12M528 1753h30M560 1753h6M567 1753h9M577 1753h8M586 1753h3M590 1753h3M595 1753h3M605 1753h3M610 1753h3M618 1753h3M283 1754h3M290 1754h6M297 1754h6M304 1754h58M363 1754h12M376 1754h7M384 1754h5M390 1754h11M402 1754h3M411 1754h6M419 1754h7M427 1754h3M432 1754h5M441 1754h3M464 1754h3M468 1754h3M473 1754h5M480 1754h12M496 1754h9M506 1754h8M516 1754h37M554 1754h11M567 1754h3M571 1754h18M590 1754h3M595 1754h3M618 1754h3M282 1755h3M290 1755h3M297 1755h11M309 1755h53M363 1755h11M377 1755h6M384 1755h11M398 1755h7M406 1755h3M411 1755h3M422 1755h4M427 1755h3M441 1755h3M460 1755h3M464 1755h3M468 1755h10M479 1755h12M492 1755h16M510 1755h4M516 1755h36M554 1755h12M574 1755h24M613 1755h8M281 1756h4M291 1756h3M297 1756h12M312 1756h63M377 1756h6M384 1756h10M400 1756h3M406 1756h3M422 1756h3M427 1756h3M441 1756h6M460 1756h3M466 1756h3M471 1756h3M475 1756h3M479 1756h29M510 1756h4M518 1756h26M545 1756h7M553 1756h13M574 1756h17M593 1756h3M600 1756h5M613 1756h6M277 1757h3M281 1757h4M291 1757h5M297 1757h78M379 1757h3M386 1757h7M400 1757h3M406 1757h3M415 1757h3M423 1757h3M434 1757h3M444 1757h3M449 1757h3M455 1757h3M460 1757h9M471 1757h3M478 1757h6M485 1757h23M509 1757h25M535 1757h34M575 1757h16M593 1757h3M600 1757h5M613 1757h6M277 1758h8M291 1758h5M297 1758h78M379 1758h6M386 1758h3M410 1758h3M415 1758h3M422 1758h7M434 1758h3M444 1758h3M449 1758h3M455 1758h3M463 1758h6M471 1758h6M478 1758h30M509 1758h41M551 1758h18M575 1758h14M594 1758h3M600 1758h5M277 1759h10M291 1759h86M379 1759h6M386 1759h3M402 1759h5M410 1759h3M415 1759h3M421 1759h8M430 1759h3M434 1759h4M439 1759h6M449 1759h3M455 1759h3M463 1759h6M471 1759h6M478 1759h26M505 1759h3M509 1759h41M551 1759h19M573 1759h8M584 1759h5M591 1759h6M617 1759h3M279 1760h3M284 1760h3M288 1760h80M371 1760h14M388 1760h3M396 1760h3M400 1760h8M410 1760h4M416 1760h9M426 1760h12M439 1760h6M465 1760h8M474 1760h5M481 1760h50M534 1760h3M539 1760h14M554 1760h16M573 1760h9M584 1760h3M591 1760h6M617 1760h3M271 1761h3M284 1761h68M356 1761h14M372 1761h13M386 1761h5M396 1761h3M400 1761h8M411 1761h3M416 1761h8M427 1761h11M439 1761h6M448 1761h3M465 1761h3M469 1761h5M476 1761h3M480 1761h50M534 1761h19M554 1761h17M573 1761h9M584 1761h12M608 1761h3M617 1761h3M629 1761h3M269 1762h5M283 1762h15M299 1762h30M330 1762h22M356 1762h15M372 1762h9M383 1762h8M396 1762h3M400 1762h3M405 1762h3M411 1762h3M416 1762h5M427 1762h3M432 1762h3M439 1762h3M445 1762h6M456 1762h3M465 1762h10M476 1762h3M480 1762h50M531 1762h15M547 1762h17M565 1762h6M574 1762h8M587 1762h7M601 1762h3M608 1762h3M629 1762h3M269 1763h7M283 1763h15M300 1763h54M356 1763h7M364 1763h11M376 1763h3M383 1763h8M396 1763h4M418 1763h6M427 1763h3M445 1763h7M456 1763h3M460 1763h3M465 1763h94M561 1763h5M568 1763h11M587 1763h7M601 1763h3M608 1763h3M629 1763h3M268 1764h8M278 1764h23M302 1764h4M307 1764h56M364 1764h11M376 1764h11M388 1764h3M395 1764h6M404 1764h3M415 1764h10M438 1764h3M445 1764h7M456 1764h3M460 1764h3M465 1764h63M529 1764h32M563 1764h5M571 1764h6M589 1764h5M598 1764h6M260 1765h3M268 1765h3M273 1765h70M344 1765h31M376 1765h10M388 1765h3M395 1765h6M404 1765h3M415 1765h10M429 1765h5M435 1765h6M446 1765h10M460 1765h4M465 1765h29M495 1765h8M505 1765h23M529 1765h25M556 1765h5M562 1765h6M571 1765h6M580 1765h3M589 1765h3M598 1765h3M249 1766h3M260 1766h3M268 1766h3M273 1766h30M305 1766h59M369 1766h3M377 1766h9M392 1766h10M404 1766h3M415 1766h11M429 1766h15M446 1766h10M461 1766h3M465 1766h29M495 1766h33M529 1766h25M555 1766h6M562 1766h6M572 1766h3M580 1766h3M598 1766h3M249 1767h3M260 1767h3M268 1767h3M273 1767h58M332 1767h24M357 1767h7M383 1767h3M389 1767h9M399 1767h3M414 1767h5M423 1767h3M429 1767h16M446 1767h10M458 1767h7M467 1767h47M515 1767h29M546 1767h8M555 1767h5M562 1767h4M572 1767h3M580 1767h3M585 1767h3M249 1768h4M261 1768h3M268 1768h3M273 1768h58M332 1768h23M357 1768h6M373 1768h3M385 1768h3M389 1768h9M399 1768h3M411 1768h6M418 1768h3M422 1768h8M431 1768h4M437 1768h19M458 1768h3M462 1768h3M468 1768h23M492 1768h22M515 1768h10M527 1768h17M546 1768h3M551 1768h3M555 1768h3M560 1768h6M567 1768h11M579 1768h3M585 1768h3M250 1769h3M261 1769h3M268 1769h4M273 1769h82M357 1769h6M373 1769h3M385 1769h3M389 1769h3M395 1769h3M400 1769h3M411 1769h6M418 1769h12M431 1769h3M437 1769h19M458 1769h7M466 1769h5M472 1769h3M477 1769h38M516 1769h17M534 1769h20M555 1769h3M560 1769h6M567 1769h7M575 1769h3M579 1769h3M585 1769h3M250 1770h7M259 1770h5M267 1770h5M273 1770h20M294 1770h69M369 1770h3M373 1770h3M385 1770h3M389 1770h3M399 1770h4M407 1770h23M431 1770h3M437 1770h34M472 1770h37M510 1770h23M534 1770h21M557 1770h17M575 1770h3M579 1770h3M585 1770h3M252 1771h5M258 1771h104M363 1771h3M369 1771h3M389 1771h3M399 1771h4M407 1771h6M414 1771h10M430 1771h6M440 1771h69M510 1771h36M547 1771h8M557 1771h8M566 1771h3M571 1771h3M579 1771h3M252 1772h19M272 1772h74M347 1772h3M351 1772h11M363 1772h3M369 1772h3M375 1772h3M389 1772h3M399 1772h3M403 1772h10M414 1772h10M430 1772h79M510 1772h3M514 1772h41M557 1772h3M561 1772h4M566 1772h3M570 1772h4M579 1772h3M252 1773h94M347 1773h3M357 1773h3M363 1773h4M371 1773h3M375 1773h3M379 1773h3M389 1773h3M399 1773h10M412 1773h4M417 1773h7M427 1773h32M462 1773h4M468 1773h41M510 1773h34M545 1773h10M570 1773h4M255 1774h95M351 1774h3M357 1774h3M364 1774h3M371 1774h3M375 1774h3M379 1774h5M388 1774h4M399 1774h11M411 1774h5M419 1774h5M427 1774h22M450 1774h16M468 1774h42M511 1774h33M545 1774h10M570 1774h3M253 1775h68M322 1775h15M338 1775h6M345 1775h3M351 1775h3M357 1775h3M362 1775h5M371 1775h3M379 1775h5M388 1775h3M399 1775h5M407 1775h3M411 1775h132M547 1775h9M253 1776h14M268 1776h69M338 1776h5M345 1776h9M357 1776h3M362 1776h3M381 1776h3M388 1776h6M400 1776h3M404 1776h6M411 1776h8M422 1776h23M446 1776h97M547 1776h11M252 1777h91M345 1777h6M355 1777h5M362 1777h3M370 1777h3M375 1777h6M384 1777h3M388 1777h6M404 1777h3M411 1777h10M422 1777h23M446 1777h15M462 1777h25M488 1777h54M547 1777h3M552 1777h6M559 1777h3M252 1778h90M345 1778h6M355 1778h5M370 1778h3M375 1778h12M388 1778h6M395 1778h4M404 1778h5M411 1778h51M463 1778h68M533 1778h7M546 1778h4M552 1778h10M563 1778h3M249 1779h92M344 1779h10M355 1779h5M369 1779h4M375 1779h14M395 1779h6M405 1779h32M438 1779h28M467 1779h72M540 1779h9M552 1779h10M563 1779h3M249 1780h93M344 1780h10M360 1780h3M369 1780h3M379 1780h10M394 1780h7M402 1780h35M438 1780h45M485 1780h48M534 1780h15M552 1780h8M563 1780h3M249 1781h94M344 1781h10M360 1781h3M369 1781h3M379 1781h3M383 1781h6M394 1781h7M402 1781h59M462 1781h87M552 1781h5M558 1781h6M250 1782h84M335 1782h19M360 1782h3M364 1782h3M379 1782h3M383 1782h3M391 1782h10M402 1782h11M414 1782h118M533 1782h8M542 1782h7M558 1782h8M250 1783h84M337 1783h13M351 1783h3M356 1783h3M361 1783h8M383 1783h3M391 1783h18M411 1783h20M432 1783h100M533 1783h19M558 1783h8M250 1784h86M337 1784h13M351 1784h3M356 1784h3M361 1784h10M379 1784h3M383 1784h3M390 1784h32M424 1784h108M534 1784h18M563 1784h3M249 1785h87M337 1785h6M344 1785h6M354 1785h5M361 1785h3M366 1785h5M379 1785h3M390 1785h18M409 1785h118M532 1785h20M249 1786h65M315 1786h21M338 1786h5M346 1786h7M354 1786h3M358 1786h3M368 1786h3M378 1786h5M388 1786h140M529 1786h12M543 1786h3M547 1786h3M249 1787h87M339 1787h6M346 1787h7M354 1787h3M358 1787h3M378 1787h13M392 1787h3M396 1787h22M419 1787h18M438 1787h90M529 1787h6M538 1787h4M547 1787h3M249 1788h100M350 1788h4M356 1788h5M378 1788h62M441 1788h64M506 1788h22M529 1788h5M539 1788h3M249 1789h91M342 1789h7M351 1789h3M356 1789h6M368 1789h3M378 1789h4M383 1789h141M525 1789h3M529 1789h8M539 1789h5M250 1790h60M311 1790h16M328 1790h5M336 1790h4M343 1790h4M351 1790h3M356 1790h6M368 1790h9M379 1790h3M383 1790h139M525 1790h3M529 1790h3M534 1790h3M541 1790h3M553 1790h3M250 1791h59M311 1791h16M328 1791h3M337 1791h3M342 1791h5M348 1791h3M359 1791h18M383 1791h135M519 1791h3M529 1791h3M534 1791h3M538 1791h6M553 1791h3M249 1792h70M321 1792h6M328 1792h4M333 1792h3M342 1792h3M347 1792h4M352 1792h3M357 1792h11M369 1792h9M383 1792h4M388 1792h113M502 1792h18M533 1792h3M538 1792h3M553 1792h3M249 1793h70M323 1793h3M327 1793h5M333 1793h3M338 1793h7M347 1793h4M352 1793h3M357 1793h11M370 1793h8M379 1793h15M395 1793h105M503 1793h13M517 1793h3M524 1793h3M533 1793h3M538 1793h3M249 1794h70M320 1794h12M333 1794h12M347 1794h3M352 1794h3M356 1794h11M370 1794h130M503 1794h12M517 1794h3M524 1794h3M533 1794h3M249 1795h59M309 1795h10M320 1795h3M325 1795h20M352 1795h3M356 1795h15M373 1795h127M504 1795h3M509 1795h6M517 1795h4M524 1795h3M250 1796h57M309 1796h14M325 1796h3M329 1796h10M341 1796h4M352 1796h149M504 1796h3M509 1796h4M514 1796h3M518 1796h4M524 1796h3M250 1797h75M331 1797h7M341 1797h3M350 1797h151M503 1797h10M514 1797h3M518 1797h4M524 1797h3M250 1798h75M331 1798h3M335 1798h4M341 1798h3M346 1798h3M350 1798h9M360 1798h48M409 1798h104M514 1798h8M524 1798h3M250 1799h62M313 1799h7M322 1799h6M329 1799h5M335 1799h4M341 1799h3M346 1799h3M350 1799h5M356 1799h3M360 1799h137M501 1799h12M514 1799h8M249 1800h63M313 1800h11M325 1800h7M336 1800h4M341 1800h18M360 1800h5M366 1800h130M500 1800h13M514 1800h8M249 1801h62M313 1801h20M337 1801h3M341 1801h18M360 1801h136M500 1801h12M514 1801h3M519 1801h3M249 1802h68M318 1802h15M337 1802h3M341 1802h6M349 1802h10M360 1802h137M500 1802h5M507 1802h5M514 1802h3M518 1802h3M249 1803h72M322 1803h16M340 1803h8M349 1803h148M499 1803h6M512 1803h5M518 1803h3M250 1804h45M296 1804h24M321 1804h3M326 1804h157M484 1804h13M499 1804h3M512 1804h5M518 1804h3M249 1805h53M303 1805h3M307 1805h17M325 1805h158M484 1805h8M494 1805h3M499 1805h3M511 1805h4M538 1805h3M249 1806h53M307 1806h27M335 1806h155M494 1806h3M499 1806h3M511 1806h3M538 1806h3M249 1807h55M307 1807h8M317 1807h4M323 1807h5M329 1807h5M337 1807h3M341 1807h128M470 1807h9M480 1807h17M499 1807h3M511 1807h3M538 1807h3M249 1808h34M285 1808h10M296 1808h8M307 1808h20M328 1808h151M480 1808h17M499 1808h3M249 1809h34M285 1809h9M297 1809h7M305 1809h13M320 1809h7M328 1809h14M343 1809h122M466 1809h13M482 1809h15M249 1810h33M285 1810h33M320 1810h159M484 1810h9M494 1810h3M249 1811h33M286 1811h37M324 1811h160M485 1811h11M508 1811h3M249 1812h41M292 1812h22M316 1812h174M493 1812h3M508 1812h3M249 1813h49M300 1813h8M310 1813h178M491 1813h5M508 1813h3M249 1814h37M287 1814h11M300 1814h6M310 1814h142M453 1814h28M482 1814h6M491 1814h3M499 1814h3M249 1815h37M287 1815h9M299 1815h176M478 1815h3M482 1815h6M491 1815h3M499 1815h3M249 1816h37M287 1816h9M297 1816h179M482 1816h3M499 1816h3M249 1817h31M281 1817h10M292 1817h184M249 1818h227M249 1819h210M461 1819h13M249 1820h29M280 1820h180M461 1820h13M477 1820h3M250 1821h210M461 1821h13M477 1821h3M251 1822h209M461 1822h12M477 1822h3M251 1823h199M453 1823h5M461 1823h12M487 1823h3M251 1824h202M454 1824h5M460 1824h9M470 1824h3M487 1824h3M250 1825h72M323 1825h130M454 1825h15M470 1825h3M487 1825h3M249 1826h204M455 1826h11M249 1827h204M455 1827h11M249 1828h204M455 1828h11M249 1829h205M455 1829h4M461 1829h3M249 1830h205M456 1830h3M249 1831h200M451 1831h3M456 1831h3M250 1832h9M261 1832h178M440 1832h3M444 1832h5M451 1832h3M253 1833h178M433 1833h6M440 1833h3M446 1833h4M451 1833h3M251 1834h170M422 1834h21M446 1834h4M251 1835h169M421 1835h19M441 1835h3M447 1835h4M251 1836h174M426 1836h9M436 1836h4M441 1836h3M448 1836h3M250 1837h176M431 1837h8M441 1837h3M448 1837h3M250 1838h165M416 1838h12M431 1838h8M250 1839h170M421 1839h7M431 1839h8M250 1840h170M421 1840h3M425 1840h3M431 1840h5M438 1840h3M447 1840h3M250 1841h170M421 1841h3M425 1841h3M431 1841h5M438 1841h3M447 1841h3M250 1842h153M404 1842h16M421 1842h7M433 1842h3M438 1842h3M447 1842h3M249 1843h158M408 1843h12M424 1843h3M249 1844h171M424 1844h3M447 1844h3M249 1845h159M409 1845h3M413 1845h3M418 1845h3M447 1845h3M249 1846h159M409 1846h7M418 1846h3M447 1846h3M249 1847h152M402 1847h13M418 1847h3M249 1848h146M396 1848h19M249 1849h145M396 1849h17M249 1850h145M396 1850h12M409 1850h4M250 1851h158M249 1852h159M249 1853h157M249 1854h146M396 1854h8M414 1854h3M249 1855h146M396 1855h8M414 1855h3M249 1856h144M396 1856h4M414 1856h3M249 1857h136M387 1857h8M249 1858h146M398 1858h3M249 1859h134M385 1859h12M398 1859h3M249 1860h134M385 1860h7M394 1860h3M398 1860h3M249 1861h134M394 1861h6M249 1862h134M397 1862h3M249 1863h123M375 1863h4M397 1863h3M249 1864h123M375 1864h3M381 1864h3M249 1865h122M375 1865h3M381 1865h3M249 1866h120M381 1866h3M249 1867h119M249 1868h119M249 1869h119M249 1870h116M249 1871h115M249 1872h111M361 1872h3M376 1872h3M249 1873h92M342 1873h12M356 1873h4M376 1873h3M249 1874h105M356 1874h3M376 1874h3M249 1875h104M249 1876h97M350 1876h3M249 1877h88M338 1877h8M347 1877h3M368 1877h3M249 1878h97M347 1878h3M368 1878h3M249 1879h85M336 1879h10M347 1879h3M368 1879h3M249 1880h85M335 1880h11M364 1880h3M249 1881h79M329 1881h10M341 1881h3M364 1881h3M249 1882h90M364 1882h3M249 1883h88M249 1884h68M318 1884h19M249 1885h68M319 1885h7M327 1885h10M249 1886h68M319 1886h6M328 1886h4M334 1886h3M249 1887h64M319 1887h6M249 1888h65M321 1888h4M249 1889h65M316 1889h4M321 1889h3M249 1890h71M249 1891h63M313 1891h7M250 1892h62M313 1892h3M250 1893h62M316 1893h3M250 1894h41M294 1894h6M302 1894h6M316 1894h3M250 1895h41M295 1895h7M316 1895h3M249 1896h55M323 1896h3M249 1897h49M299 1897h5M323 1897h3M249 1898h46M297 1898h3M301 1898h3M323 1898h3M249 1899h34M285 1899h9M297 1899h3M249 1900h45M297 1900h3M325 1900h3M249 1901h43M325 1901h3M249 1902h36M286 1902h5M303 1902h3M325 1902h3M250 1903h34M286 1903h3M303 1903h3M250 1904h21M272 1904h3M277 1904h7M303 1904h3M249 1905h24M277 1905h3M281 1905h3M249 1906h25M277 1906h3M249 1907h17M267 1907h7M250 1908h8M259 1908h6M267 1908h3M271 1908h3M250 1909h6M259 1909h4M267 1909h3M250 1910h6M259 1910h4M265 1910h5M250 1911h6M258 1911h12M250 1912h6M258 1912h10M250 1913h4M255 1913h10M293 1913h3M255 1914h4M261 1914h3M293 1914h3M255 1915h4M261 1915h3M293 1915h3M250 1916h8M250 1917h6M250 1918h6" stroke="#000" stroke-width="1" transform="translate(0 0.5)" shape-rendering="crispEdges"/>
<path d="M251.5 1839.7L1234.6 1310.6" stroke="#ff0000" stroke-width="7.2" stroke-linecap="round"/>
<path d="M454.9 1932.8v-16 M659.9 1932.8v-9 M864.9 1932.8v-16 M1069.8 1932.8v-9 M1274.8 1932.8v-16 M249.8 1857.0h9 M249.8 1732.5h16 M249.8 1608.0h9 M249.8 1483.5h16 M249.8 1359.1h9 M249.8 1234.6h16 M249.8 1110.1h9" stroke="#3a3a3a" stroke-width="3.2" fill="none"/>
<rect x="249.8" y="1109.8" width="1107.8" height="823.0" fill="none" stroke="#4a4a4a" stroke-width="3.8"/>
<g font-family="Liberation Sans, Arial, sans-serif" font-weight="bold" font-size="44" text-anchor="end">
<text x="231.5" y="1747.5">1000</text>
<text x="231.5" y="1497.0">2000</text>
<text x="231.5" y="1246.5">3000</text>
</g>
<g font-family="Liberation Sans, Arial, sans-serif" font-weight="bold" font-size="44" text-anchor="middle">
<text x="454.9" y="1985.5">10,000</text>
<text x="864.9" y="1985.5">20,000</text>
<text x="1274.8" y="1985.5">30,000</text>
</g>
<text font-family="Liberation Sans, Arial, sans-serif" font-weight="bold" font-size="54" text-anchor="middle" x="802" y="2071">Peak</text>
<text font-family="Liberation Sans, Arial, sans-serif" font-weight="bold" font-size="55.5" text-anchor="middle" transform="translate(96.5 1557.8) rotate(-90)">Tail</text>
<text font-family="Liberation Sans, Arial, sans-serif" font-size="52" x="56.9" y="1146.4">(b)</text>
</g>
<g id="pc">
<rect x="519.9" y="2851.2" width="41.8" height="121.3" fill="#000"/>
<rect x="589.2" y="2287.4" width="41.8" height="685.1" fill="#000"/>
<rect x="658.5" y="2187.7" width="41.8" height="784.8" fill="#000"/>
<rect x="727.8" y="2759.5" width="41.8" height="213.0" fill="#000"/>
<rect x="797.0" y="2937.5" width="41.8" height="35.0" fill="#000"/>
<rect x="866.3" y="2935.1" width="41.8" height="37.4" fill="#000"/>
<rect x="935.6" y="2887.2" width="41.8" height="85.3" fill="#000"/>
<rect x="1004.9" y="2894.0" width="41.8" height="78.5" fill="#000"/>
<rect x="1074.2" y="2922.1" width="41.8" height="50.4" fill="#000"/>
<rect x="1143.4" y="2954.7" width="41.8" height="17.8" fill="#000"/>
<polyline points="264.5,2971.5 266.5,2971.5 268.5,2971.5 270.5,2971.5 272.5,2971.5 274.5,2971.5 276.5,2971.5 278.5,2971.5 280.5,2971.5 282.5,2971.5 284.5,2971.5 286.5,2971.5 288.5,2971.5 290.5,2971.5 292.5,2971.5 294.5,2971.5 296.5,2971.5 298.5,2971.5 300.5,2971.5 302.5,2971.5 304.5,2971.5 306.5,2971.5 308.5,2971.5 310.5,2971.5 312.5,2971.5 314.5,2971.5 316.5,2971.5 318.5,2971.5 320.5,2971.5 322.5,2971.5 324.5,2971.5 326.5,2971.5 328.5,2971.5 330.5,2971.5 332.5,2971.5 334.5,2971.5 336.5,2971.5 338.5,2971.5 340.5,2971.5 342.5,2971.5 344.5,2971.5 346.5,2971.5 348.5,2971.5 350.5,2971.5 352.5,2971.5 354.5,2971.4 356.5,2971.4 358.5,2971.4 360.5,2971.4 362.5,2971.4 364.5,2971.4 366.5,2971.4 368.5,2971.4 370.5,2971.4 372.5,2971.3 374.5,2971.3 376.5,2971.3 378.5,2971.3 380.5,2971.2 382.5,2971.2 384.5,2971.2 386.5,2971.1 388.5,2971.1 390.5,2971.0 392.5,2971.0 394.5,2970.9 396.5,2970.8 398.5,2970.8 400.5,2970.7 402.5,2970.6 404.5,2970.5 406.5,2970.4 408.5,2970.2 410.5,2970.1 412.5,2970.0 414.5,2969.8 416.5,2969.6 418.5,2969.4 420.5,2969.2 422.5,2969.0 424.5,2968.7 426.5,2968.4 428.5,2968.1 430.5,2967.8 432.5,2967.4 434.5,2967.0 436.5,2966.5 438.5,2966.1 440.5,2965.6 442.5,2965.0 444.5,2964.4 446.5,2963.7 448.5,2963.0 450.5,2962.3 452.5,2961.4 454.5,2960.5 456.5,2959.6 458.5,2958.5 460.5,2957.4 462.5,2956.2 464.5,2955.0 466.5,2953.6 468.5,2952.1 470.5,2950.6 472.5,2948.9 474.5,2947.1 476.5,2945.2 478.5,2943.1 480.5,2941.0 482.5,2938.6 484.5,2936.2 486.5,2933.6 488.5,2930.8 490.5,2927.9 492.5,2924.8 494.5,2921.5 496.5,2918.1 498.5,2914.4 500.5,2910.6 502.5,2906.5 504.5,2902.3 506.5,2897.8 508.5,2893.1 510.5,2888.2 512.5,2883.0 514.5,2877.6 516.5,2871.9 518.5,2866.1 520.5,2859.9 522.5,2853.5 524.5,2846.8 526.5,2839.9 528.5,2832.7 530.5,2825.2 532.5,2817.5 534.5,2809.5 536.5,2801.2 538.5,2792.6 540.5,2783.8 542.5,2774.7 544.5,2765.3 546.5,2755.7 548.5,2745.8 550.5,2735.7 552.5,2725.3 554.5,2714.7 556.5,2703.9 558.5,2692.8 560.5,2681.6 562.5,2670.1 564.5,2658.4 566.5,2646.6 568.5,2634.6 570.5,2622.5 572.5,2610.2 574.5,2597.9 576.5,2585.4 578.5,2572.9 580.5,2560.3 582.5,2547.6 584.5,2535.0 586.5,2522.3 588.5,2509.7 590.5,2497.1 592.5,2484.6 594.5,2472.2 596.5,2460.0 598.5,2447.8 600.5,2435.9 602.5,2424.1 604.5,2412.5 606.5,2401.2 608.5,2390.2 610.5,2379.4 612.5,2369.0 614.5,2358.9 616.5,2349.2 618.5,2339.8 620.5,2330.9 622.5,2322.3 624.5,2314.3 626.5,2306.7 628.5,2299.5 630.5,2292.9 632.5,2286.8 634.5,2281.2 636.5,2276.2 638.5,2271.8 640.5,2267.9 642.5,2264.6 644.5,2261.9 646.5,2259.7 648.5,2258.2 650.5,2257.3 652.5,2257.0 654.5,2257.3 656.5,2258.2 658.5,2259.7 660.5,2261.9 662.5,2264.6 664.5,2267.9 666.5,2271.8 668.5,2276.2 670.5,2281.2 672.5,2286.8 674.5,2292.9 676.5,2299.5 678.5,2306.7 680.5,2314.3 682.5,2322.3 684.5,2330.9 686.5,2339.8 688.5,2349.2 690.5,2358.9 692.5,2369.0 694.5,2379.4 696.5,2390.2 698.5,2401.2 700.5,2412.5 702.5,2424.1 704.5,2435.9 706.5,2447.8 708.5,2460.0 710.5,2472.2 712.5,2484.6 714.5,2497.1 716.5,2509.7 718.5,2522.3 720.5,2535.0 722.5,2547.6 724.5,2560.3 726.5,2572.9 728.5,2585.4 730.5,2597.9 732.5,2610.2 734.5,2622.5 736.5,2634.6 738.5,2646.6 740.5,2658.4 742.5,2670.1 744.5,2681.6 746.5,2692.8 748.5,2703.9 750.5,2714.7 752.5,2725.3 754.5,2735.7 756.5,2745.8 758.5,2755.7 760.5,2765.3 762.5,2774.7 764.5,2783.8 766.5,2792.6 768.5,2801.2 770.5,2809.5 772.5,2817.5 774.5,2825.2 776.5,2832.7 778.5,2839.9 780.5,2846.8 782.5,2853.5 784.5,2859.9 786.5,2866.1 788.5,2871.9 790.5,2877.6 792.5,2883.0 794.5,2888.2 796.5,2893.1 798.5,2897.8 800.5,2902.3 802.5,2906.5 804.5,2910.6 806.5,2914.4 808.5,2918.1 810.5,2921.5 812.5,2924.8 814.5,2927.9 816.5,2930.8 818.5,2933.6 820.5,2936.2 822.5,2938.6 824.5,2941.0 826.5,2943.1 828.5,2945.2 830.5,2947.1 832.5,2948.9 834.5,2950.6 836.5,2952.1 838.5,2953.6 840.5,2955.0 842.5,2956.2 844.5,2957.4 846.5,2958.5 848.5,2959.6 850.5,2960.5 852.5,2961.4 854.5,2962.3 856.5,2963.0 858.5,2963.7 860.5,2964.4 862.5,2965.0 864.5,2965.6 866.5,2966.1 868.5,2966.5 870.5,2967.0 872.5,2967.4 874.5,2967.8 876.5,2968.1 878.5,2968.4 880.5,2968.7 882.5,2969.0 884.5,2969.2 886.5,2969.4 888.5,2969.6 890.5,2969.8 892.5,2970.0 894.5,2970.1 896.5,2970.2 898.5,2970.4 900.5,2970.5 902.5,2970.6 904.5,2970.7 906.5,2970.8 908.5,2970.8 910.5,2970.9 912.5,2971.0 914.5,2971.0 916.5,2971.1 918.5,2971.1 920.5,2971.2 922.5,2971.2 924.5,2971.2 926.5,2971.3 928.5,2971.3 930.5,2971.3 932.5,2971.3 934.5,2971.4 936.5,2971.4 938.5,2971.4 940.5,2971.4 942.5,2971.4 944.5,2971.4 946.5,2971.4 948.5,2971.4 950.5,2971.4 952.5,2971.5 954.5,2971.5 956.5,2971.5 958.5,2971.5 960.5,2971.5 962.5,2971.5 964.5,2971.5 966.5,2971.5 968.5,2971.5 970.5,2971.5 972.5,2971.5 974.5,2971.5 976.5,2971.5 978.5,2971.5 980.5,2971.5 982.5,2971.5 984.5,2971.5 986.5,2971.5 988.5,2971.5 990.5,2971.5 992.5,2971.5 994.5,2971.5 996.5,2971.5 998.5,2971.5 1000.5,2971.5 1002.5,2971.5 1004.5,2971.5 1006.5,2971.5 1008.5,2971.5 1010.5,2971.5 1012.5,2971.5 1014.5,2971.5 1016.5,2971.5 1018.5,2971.5 1020.5,2971.5 1022.5,2971.5 1024.5,2971.5 1026.5,2971.5 1028.5,2971.5 1030.5,2971.5 1032.5,2971.5 1034.5,2971.5 1036.5,2971.5 1038.5,2971.5 1040.5,2971.5 1042.5,2971.5 1044.5,2971.5 1046.5,2971.5 1048.5,2971.5 1050.5,2971.5 1052.5,2971.5 1054.5,2971.5 1056.5,2971.5 1058.5,2971.5 1060.5,2971.5 1062.5,2971.5 1064.5,2971.5 1066.5,2971.5 1068.5,2971.5 1070.5,2971.5 1072.5,2971.5 1074.5,2971.5 1076.5,2971.5 1078.5,2971.5 1080.5,2971.5 1082.5,2971.5 1084.5,2971.5 1086.5,2971.5 1088.5,2971.5 1090.5,2971.5 1092.5,2971.5 1094.5,2971.5 1096.5,2971.5 1098.5,2971.5 1100.5,2971.5 1102.5,2971.5 1104.5,2971.5 1106.5,2971.5 1108.5,2971.5 1110.5,2971.5 1112.5,2971.5 1114.5,2971.5 1116.5,2971.5 1118.5,2971.5 1120.5,2971.5 1122.5,2971.5 1124.5,2971.5 1126.5,2971.5 1128.5,2971.5 1130.5,2971.5 1132.5,2971.5 1134.5,2971.5 1136.5,2971.5 1138.5,2971.5 1140.5,2971.5 1142.5,2971.5 1144.5,2971.5 1146.5,2971.5 1148.5,2971.5 1150.5,2971.5 1152.5,2971.5 1154.5,2971.5 1156.5,2971.5 1158.5,2971.5 1160.5,2971.5 1162.5,2971.5 1164.5,2971.5 1166.5,2971.5 1168.5,2971.5 1170.5,2971.5 1172.5,2971.5 1174.5,2971.5 1176.5,2971.5 1178.5,2971.5 1180.5,2971.5 1182.5,2971.5 1184.5,2971.5 1186.5,2971.5 1188.5,2971.5 1190.5,2971.5 1192.5,2971.5 1194.5,2971.5 1196.5,2971.5 1198.5,2971.5 1200.5,2971.5 1202.5,2971.5 1204.5,2971.5 1206.5,2971.5 1208.5,2971.5 1210.5,2971.5 1212.5,2971.5 1214.5,2971.5 1216.5,2971.5 1218.5,2971.5 1220.5,2971.5 1222.5,2971.5 1224.5,2971.5 1226.5,2971.5 1228.5,2971.5 1230.5,2971.5 1232.5,2971.5 1234.5,2971.5 1236.5,2971.5 1238.5,2971.5 1240.5,2971.5 1242.5,2971.5 1244.5,2971.5 1246.5,2971.5 1248.5,2971.5 1250.5,2971.5 1252.5,2971.5 1254.5,2971.5 1256.5,2971.5 1258.5,2971.5 1260.5,2971.5 1262.5,2971.5 1264.5,2971.5 1266.5,2971.5 1268.5,2971.5 1270.5,2971.5 1272.5,2971.5 1274.5,2971.5 1276.5,2971.5 1278.5,2971.5 1280.5,2971.5 1282.5,2971.5 1284.5,2971.5 1286.5,2971.5 1288.5,2971.5 1290.5,2971.5 1292.5,2971.5 1294.5,2971.5 1296.5,2971.5 1298.5,2971.5 1300.5,2971.5 1302.5,2971.5 1304.5,2971.5 1306.5,2971.5 1308.5,2971.5 1310.5,2971.5 1312.5,2971.5 1314.5,2971.5 1316.5,2971.5 1318.5,2971.5 1320.5,2971.5 1322.5,2971.5 1324.5,2971.5 1326.5,2971.5 1328.5,2971.5 1330.5,2971.5 1332.5,2971.5 1334.5,2971.5 1336.5,2971.5 1338.5,2971.5 1340.5,2971.5 1342.5,2971.5 1344.5,2971.5 1346.5,2971.5 1348.5,2971.5 1350.5,2971.5 1352.5,2971.5 1354.5,2971.5 1356.5,2971.5 1358.5,2971.5 1360.5,2971.5 1362.5,2971.5 1364.5,2971.5 1366.5,2971.5 1368.5,2971.5 1370.5,2971.5" fill="none" stroke="#1010ff" stroke-width="6" stroke-linejoin="round"/>
<polyline points="264.5,2971.5 266.5,2971.5 268.5,2971.5 270.5,2971.5 272.5,2971.5 274.5,2971.5 276.5,2971.5 278.5,2971.5 280.5,2971.5 282.5,2971.5 284.5,2971.5 286.5,2971.5 288.5,2971.5 290.5,2971.5 292.5,2971.5 294.5,2971.5 296.5,2971.5 298.5,2971.5 300.5,2971.5 302.5,2971.5 304.5,2971.5 306.5,2971.5 308.5,2971.5 310.5,2971.5 312.5,2971.5 314.5,2971.5 316.5,2971.5 318.5,2971.5 320.5,2971.5 322.5,2971.5 324.5,2971.5 326.5,2971.5 328.5,2971.5 330.5,2971.5 332.5,2971.5 334.5,2971.5 336.5,2971.5 338.5,2971.5 340.5,2971.5 342.5,2971.5 344.5,2971.5 346.5,2971.5 348.5,2971.5 350.5,2971.5 352.5,2971.5 354.5,2971.5 356.5,2971.5 358.5,2971.5 360.5,2971.5 362.5,2971.5 364.5,2971.5 366.5,2971.5 368.5,2971.5 370.5,2971.5 372.5,2971.5 374.5,2971.5 376.5,2971.5 378.5,2971.5 380.5,2971.5 382.5,2971.5 384.5,2971.5 386.5,2971.5 388.5,2971.5 390.5,2971.5 392.5,2971.5 394.5,2971.5 396.5,2971.5 398.5,2971.5 400.5,2971.5 402.5,2971.5 404.5,2971.5 406.5,2971.5 408.5,2971.5 410.5,2971.5 412.5,2971.5 414.5,2971.5 416.5,2971.5 418.5,2971.5 420.5,2971.5 422.5,2971.5 424.5,2971.5 426.5,2971.5 428.5,2971.5 430.5,2971.5 432.5,2971.5 434.5,2971.5 436.5,2971.5 438.5,2971.5 440.5,2971.5 442.5,2971.5 444.5,2971.5 446.5,2971.5 448.5,2971.5 450.5,2971.5 452.5,2971.5 454.5,2971.5 456.5,2971.5 458.5,2971.5 460.5,2971.5 462.5,2971.5 464.5,2971.5 466.5,2971.5 468.5,2971.5 470.5,2971.5 472.5,2971.5 474.5,2971.5 476.5,2971.5 478.5,2971.5 480.5,2971.5 482.5,2971.5 484.5,2971.5 486.5,2971.5 488.5,2971.5 490.5,2971.5 492.5,2971.5 494.5,2971.5 496.5,2971.5 498.5,2971.5 500.5,2971.5 502.5,2971.5 504.5,2971.5 506.5,2971.5 508.5,2971.5 510.5,2971.5 512.5,2971.5 514.5,2971.5 516.5,2971.5 518.5,2971.5 520.5,2971.5 522.5,2971.5 524.5,2971.5 526.5,2971.5 528.5,2971.5 530.5,2971.5 532.5,2971.5 534.5,2971.5 536.5,2971.5 538.5,2971.5 540.5,2971.5 542.5,2971.5 544.5,2971.5 546.5,2971.5 548.5,2971.5 550.5,2971.5 552.5,2971.5 554.5,2971.5 556.5,2971.5 558.5,2971.5 560.5,2971.5 562.5,2971.5 564.5,2971.5 566.5,2971.5 568.5,2971.5 570.5,2971.5 572.5,2971.5 574.5,2971.5 576.5,2971.5 578.5,2971.5 580.5,2971.5 582.5,2971.5 584.5,2971.5 586.5,2971.5 588.5,2971.5 590.5,2971.4 592.5,2971.4 594.5,2971.4 596.5,2971.4 598.5,2971.4 600.5,2971.4 602.5,2971.4 604.5,2971.4 606.5,2971.4 608.5,2971.4 610.5,2971.4 612.5,2971.4 614.5,2971.4 616.5,2971.4 618.5,2971.4 620.5,2971.4 622.5,2971.3 624.5,2971.3 626.5,2971.3 628.5,2971.3 630.5,2971.3 632.5,2971.3 634.5,2971.3 636.5,2971.3 638.5,2971.2 640.5,2971.2 642.5,2971.2 644.5,2971.2 646.5,2971.2 648.5,2971.1 650.5,2971.1 652.5,2971.1 654.5,2971.1 656.5,2971.0 658.5,2971.0 660.5,2971.0 662.5,2970.9 664.5,2970.9 666.5,2970.9 668.5,2970.8 670.5,2970.8 672.5,2970.7 674.5,2970.7 676.5,2970.7 678.5,2970.6 680.5,2970.5 682.5,2970.5 684.5,2970.4 686.5,2970.4 688.5,2970.3 690.5,2970.2 692.5,2970.2 694.5,2970.1 696.5,2970.0 698.5,2969.9 700.5,2969.9 702.5,2969.8 704.5,2969.7 706.5,2969.6 708.5,2969.5 710.5,2969.4 712.5,2969.2 714.5,2969.1 716.5,2969.0 718.5,2968.9 720.5,2968.7 722.5,2968.6 724.5,2968.5 726.5,2968.3 728.5,2968.2 730.5,2968.0 732.5,2967.8 734.5,2967.6 736.5,2967.5 738.5,2967.3 740.5,2967.1 742.5,2966.9 744.5,2966.6 746.5,2966.4 748.5,2966.2 750.5,2965.9 752.5,2965.7 754.5,2965.4 756.5,2965.2 758.5,2964.9 760.5,2964.6 762.5,2964.3 764.5,2964.0 766.5,2963.7 768.5,2963.3 770.5,2963.0 772.5,2962.7 774.5,2962.3 776.5,2961.9 778.5,2961.5 780.5,2961.1 782.5,2960.7 784.5,2960.3 786.5,2959.9 788.5,2959.4 790.5,2959.0 792.5,2958.5 794.5,2958.0 796.5,2957.6 798.5,2957.0 800.5,2956.5 802.5,2956.0 804.5,2955.5 806.5,2954.9 808.5,2954.3 810.5,2953.7 812.5,2953.1 814.5,2952.5 816.5,2951.9 818.5,2951.3 820.5,2950.6 822.5,2950.0 824.5,2949.3 826.5,2948.6 828.5,2947.9 830.5,2947.2 832.5,2946.5 834.5,2945.7 836.5,2945.0 838.5,2944.2 840.5,2943.4 842.5,2942.6 844.5,2941.8 846.5,2941.0 848.5,2940.2 850.5,2939.4 852.5,2938.5 854.5,2937.7 856.5,2936.8 858.5,2936.0 860.5,2935.1 862.5,2934.2 864.5,2933.3 866.5,2932.4 868.5,2931.5 870.5,2930.6 872.5,2929.7 874.5,2928.8 876.5,2927.8 878.5,2926.9 880.5,2926.0 882.5,2925.0 884.5,2924.1 886.5,2923.2 888.5,2922.2 890.5,2921.3 892.5,2920.3 894.5,2919.4 896.5,2918.4 898.5,2917.5 900.5,2916.6 902.5,2915.7 904.5,2914.7 906.5,2913.8 908.5,2912.9 910.5,2912.0 912.5,2911.1 914.5,2910.2 916.5,2909.3 918.5,2908.5 920.5,2907.6 922.5,2906.8 924.5,2906.0 926.5,2905.1 928.5,2904.3 930.5,2903.5 932.5,2902.8 934.5,2902.0 936.5,2901.3 938.5,2900.6 940.5,2899.9 942.5,2899.2 944.5,2898.5 946.5,2897.9 948.5,2897.2 950.5,2896.6 952.5,2896.1 954.5,2895.5 956.5,2895.0 958.5,2894.5 960.5,2894.0 962.5,2893.5 964.5,2893.1 966.5,2892.7 968.5,2892.3 970.5,2892.0 972.5,2891.7 974.5,2891.4 976.5,2891.1 978.5,2890.9 980.5,2890.7 982.5,2890.5 984.5,2890.3 986.5,2890.2 988.5,2890.1 990.5,2890.0 992.5,2890.0 994.5,2890.0 996.5,2890.0 998.5,2890.1 1000.5,2890.2 1002.5,2890.3 1004.5,2890.4 1006.5,2890.6 1008.5,2890.8 1010.5,2891.0 1012.5,2891.3 1014.5,2891.6 1016.5,2891.9 1018.5,2892.2 1020.5,2892.6 1022.5,2893.0 1024.5,2893.4 1026.5,2893.9 1028.5,2894.3 1030.5,2894.8 1032.5,2895.4 1034.5,2895.9 1036.5,2896.5 1038.5,2897.1 1040.5,2897.7 1042.5,2898.3 1044.5,2899.0 1046.5,2899.6 1048.5,2900.3 1050.5,2901.1 1052.5,2901.8 1054.5,2902.5 1056.5,2903.3 1058.5,2904.1 1060.5,2904.9 1062.5,2905.7 1064.5,2906.5 1066.5,2907.4 1068.5,2908.2 1070.5,2909.1 1072.5,2910.0 1074.5,2910.8 1076.5,2911.7 1078.5,2912.6 1080.5,2913.5 1082.5,2914.5 1084.5,2915.4 1086.5,2916.3 1088.5,2917.2 1090.5,2918.2 1092.5,2919.1 1094.5,2920.0 1096.5,2921.0 1098.5,2921.9 1100.5,2922.9 1102.5,2923.8 1104.5,2924.7 1106.5,2925.7 1108.5,2926.6 1110.5,2927.6 1112.5,2928.5 1114.5,2929.4 1116.5,2930.3 1118.5,2931.2 1120.5,2932.1 1122.5,2933.0 1124.5,2933.9 1126.5,2934.8 1128.5,2935.7 1130.5,2936.6 1132.5,2937.4 1134.5,2938.3 1136.5,2939.1 1138.5,2940.0 1140.5,2940.8 1142.5,2941.6 1144.5,2942.4 1146.5,2943.2 1148.5,2944.0 1150.5,2944.7 1152.5,2945.5 1154.5,2946.2 1156.5,2947.0 1158.5,2947.7 1160.5,2948.4 1162.5,2949.1 1164.5,2949.8 1166.5,2950.4 1168.5,2951.1 1170.5,2951.7 1172.5,2952.3 1174.5,2953.0 1176.5,2953.6 1178.5,2954.2 1180.5,2954.7 1182.5,2955.3 1184.5,2955.8 1186.5,2956.4 1188.5,2956.9 1190.5,2957.4 1192.5,2957.9 1194.5,2958.4 1196.5,2958.9 1198.5,2959.3 1200.5,2959.8 1202.5,2960.2 1204.5,2960.6 1206.5,2961.0 1208.5,2961.4 1210.5,2961.8 1212.5,2962.2 1214.5,2962.6 1216.5,2962.9 1218.5,2963.2 1220.5,2963.6 1222.5,2963.9 1224.5,2964.2 1226.5,2964.5 1228.5,2964.8 1230.5,2965.1 1232.5,2965.3 1234.5,2965.6 1236.5,2965.9 1238.5,2966.1 1240.5,2966.3 1242.5,2966.6 1244.5,2966.8 1246.5,2967.0 1248.5,2967.2 1250.5,2967.4 1252.5,2967.6 1254.5,2967.8 1256.5,2967.9 1258.5,2968.1 1260.5,2968.3 1262.5,2968.4 1264.5,2968.6 1266.5,2968.7 1268.5,2968.8 1270.5,2969.0 1272.5,2969.1 1274.5,2969.2 1276.5,2969.3 1278.5,2969.4 1280.5,2969.5 1282.5,2969.6 1284.5,2969.7 1286.5,2969.8 1288.5,2969.9 1290.5,2970.0 1292.5,2970.1 1294.5,2970.2 1296.5,2970.2 1298.5,2970.3 1300.5,2970.4 1302.5,2970.4 1304.5,2970.5 1306.5,2970.5 1308.5,2970.6 1310.5,2970.6 1312.5,2970.7 1314.5,2970.7 1316.5,2970.8 1318.5,2970.8 1320.5,2970.9 1322.5,2970.9 1324.5,2970.9 1326.5,2971.0 1328.5,2971.0 1330.5,2971.0 1332.5,2971.1 1334.5,2971.1 1336.5,2971.1 1338.5,2971.1 1340.5,2971.2 1342.5,2971.2 1344.5,2971.2 1346.5,2971.2 1348.5,2971.2 1350.5,2971.2 1352.5,2971.3 1354.5,2971.3 1356.5,2971.3 1358.5,2971.3 1360.5,2971.3 1362.5,2971.3 1364.5,2971.3 1366.5,2971.4 1368.5,2971.4 1370.5,2971.4" fill="none" stroke="#ff0a0a" stroke-width="6" stroke-linejoin="round"/>
<path d="M402.3 2973.5v-16 M540.8 2973.5v-9 M679.4 2973.5v-16 M817.9 2973.5v-9 M956.5 2973.5v-16 M1095.1 2973.5v-9 M1233.6 2973.5v-16 M263.5 2973.5h16 M263.5 2857.5h9 M263.5 2741.5h16 M263.5 2625.5h9 M263.5 2509.5h16 M263.5 2393.5h9 M263.5 2277.5h16 M263.5 2161.5h9" stroke="#3a3a3a" stroke-width="3" fill="none"/>
<rect x="263.5" y="2150.0" width="1108.5" height="823.5" fill="none" stroke="#6a6a6a" stroke-width="4"/>
<g font-family="Liberation Sans, Arial, sans-serif" font-weight="bold" font-size="44" text-anchor="end">
<text x="244.5" y="2986.0">0</text>
<text x="244.5" y="2755.0">2000</text>
<text x="244.5" y="2523.0">4000</text>
<text x="244.5" y="2290.5">6000</text>
</g>
<g font-family="Liberation Sans, Arial, sans-serif" font-weight="bold" font-size="44" text-anchor="middle">
<text x="401.5" y="3025">0.04</text>
<text x="678.6" y="3025">0.08</text>
<text x="955.7" y="3025">0.12</text>
<text x="1232.8" y="3025">0.16</text>
</g>
<text font-family="Liberation Sans, Arial, sans-serif" font-weight="bold" font-size="54.5" text-anchor="middle" x="817.5" y="3111.6">Tail/Peak Ratio</text>
<text font-family="Liberation Sans, Arial, sans-serif" font-weight="bold" font-size="54" text-anchor="middle" transform="translate(110.2 2598) rotate(-90)">Count</text>
<text font-family="Liberation Sans, Arial, sans-serif" font-weight="bold" font-size="52" x="56.5" y="2189.5">(c)</text>
<rect x="772.8" y="2176.2" width="96" height="47.1" fill="#000"/>
<path d="M771.5 2253.7H869" stroke="#1010ff" stroke-width="6" stroke-linecap="round"/>
<path d="M771.5 2307.2H869" stroke="#ff0a0a" stroke-width="6" stroke-linecap="round"/>
<g font-family="Liberation Sans, Arial, sans-serif" font-weight="bold" font-size="42.5">
<text x="879" y="2213.6">PSD histogram</text>
<text x="879" y="2267.6">Gaussian fit of gamma</text>
<text x="879" y="2321.5">Gaussian fit of neutron</text>
</g>
</g>
</svg>
</body></html>
